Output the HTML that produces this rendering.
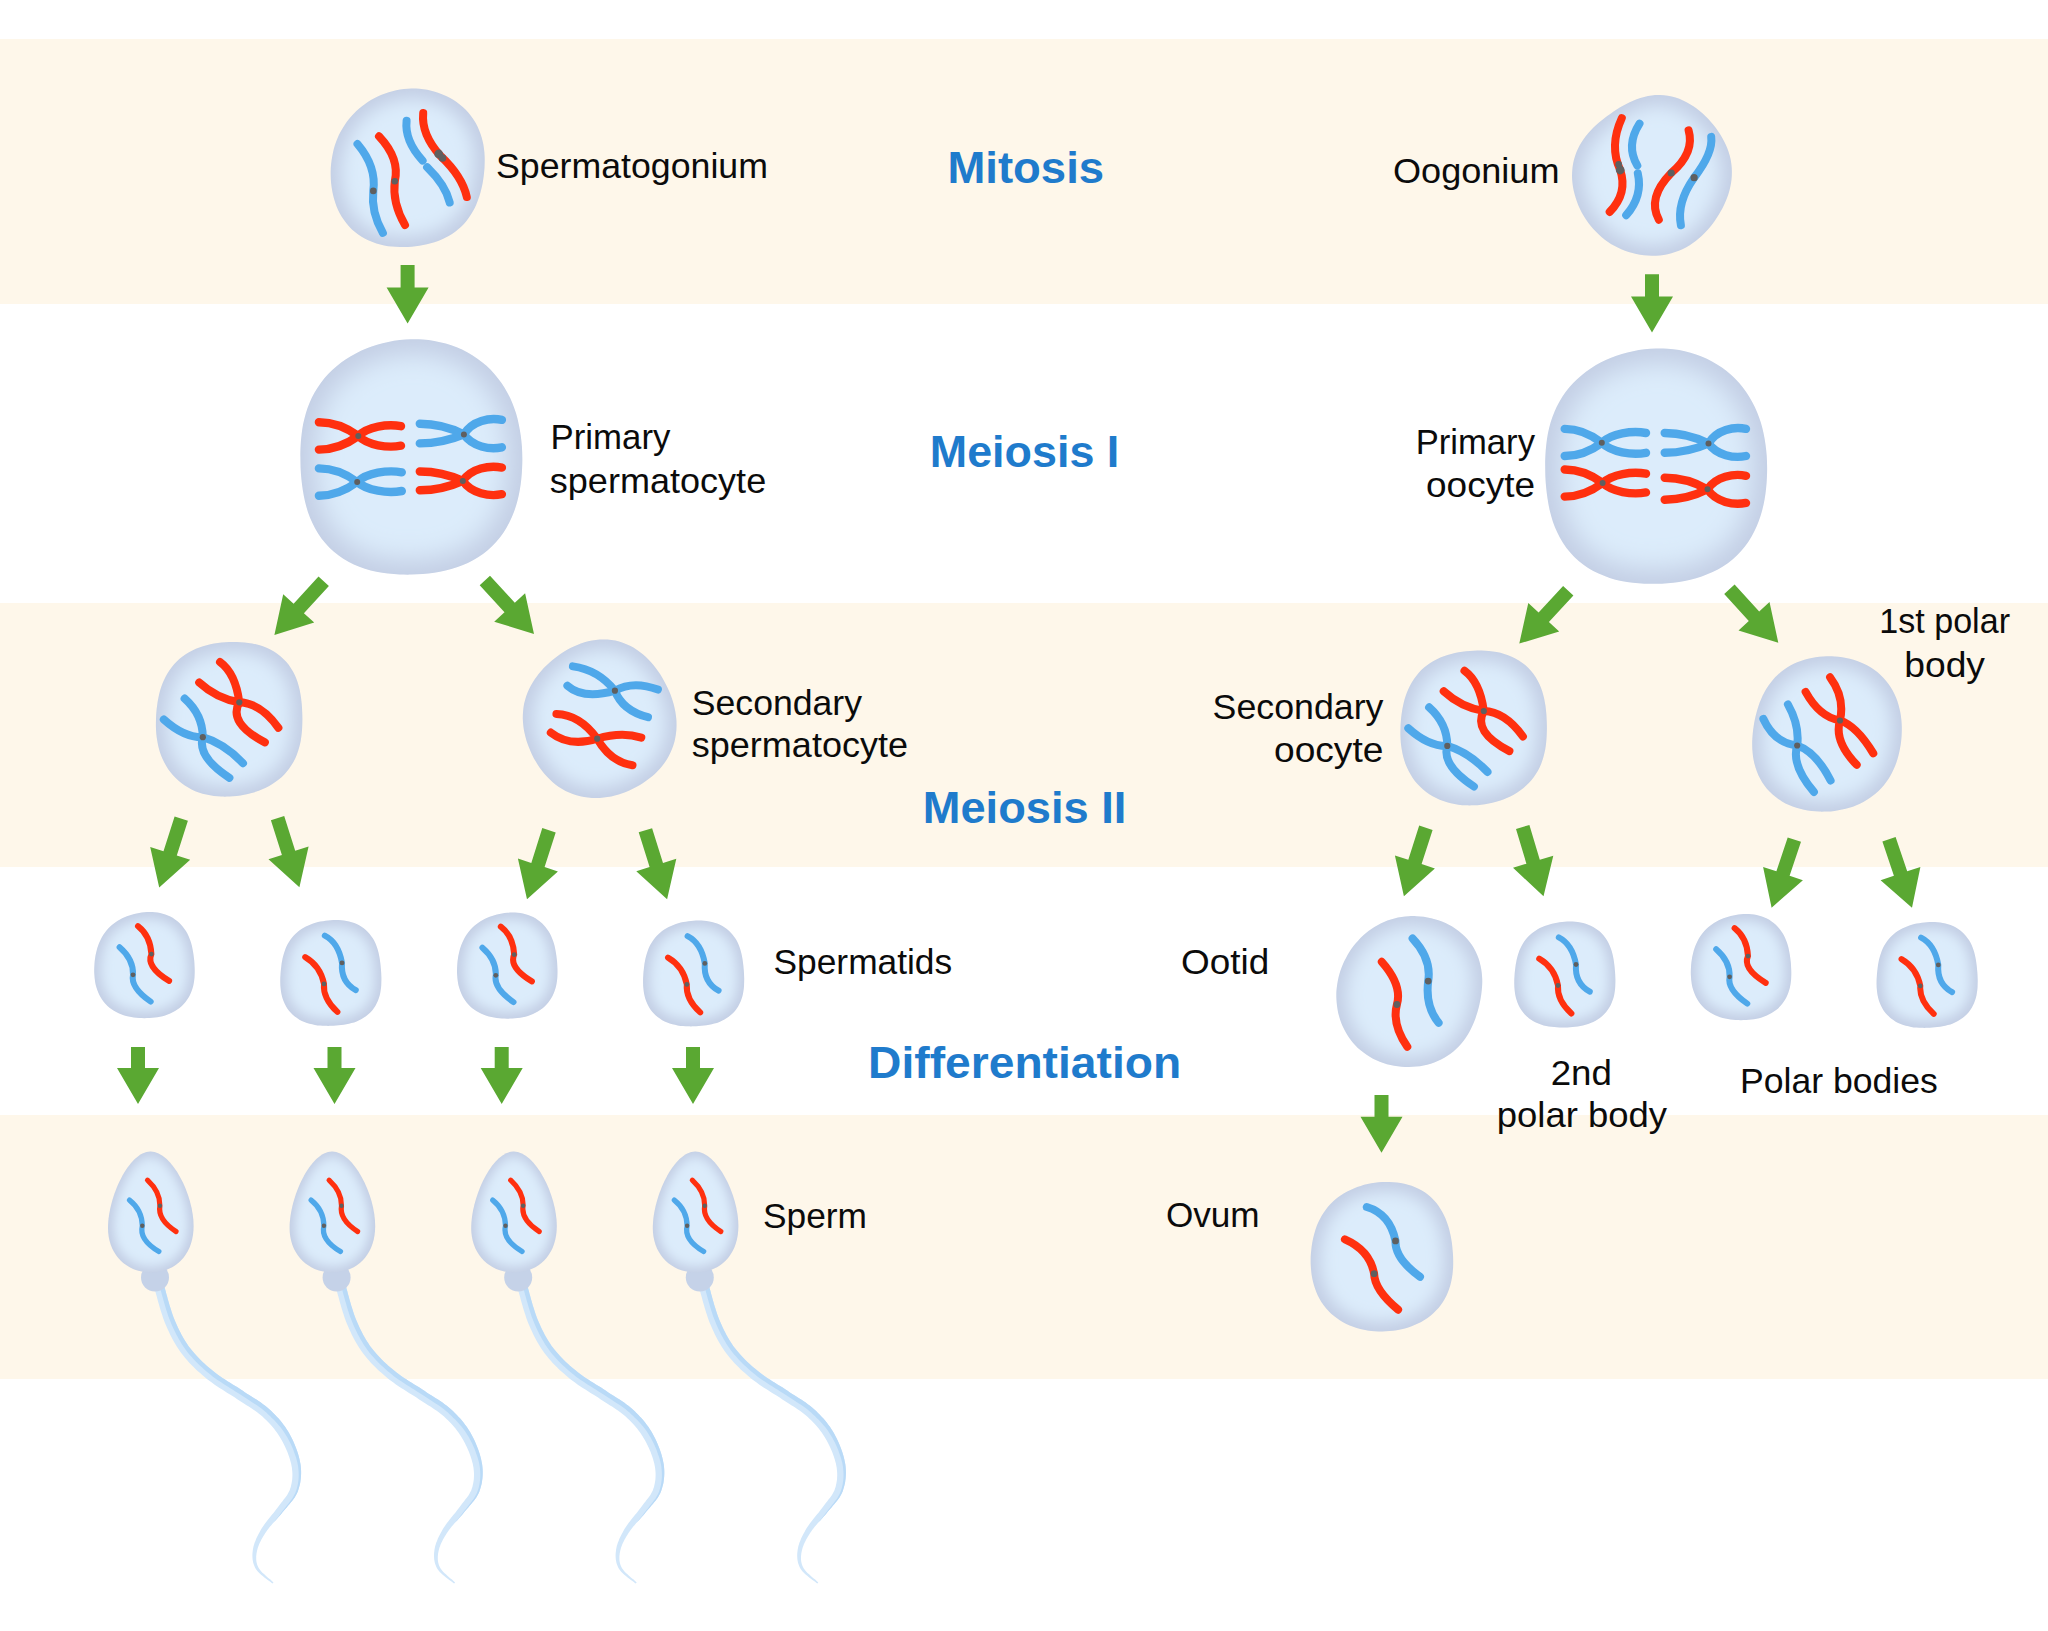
<!DOCTYPE html><html><head><meta charset="utf-8"><style>html,body{margin:0;padding:0;background:#fff;width:2048px;height:1631px;overflow:hidden}svg text{font-family:"Liberation Sans",sans-serif}</style></head><body><svg width="2048" height="1631" viewBox="0 0 2048 1631" style="display:block">
<defs><path id="c0" d="M484.5 167.8C484.3 170.3 484.1 172.8 483.8 175.2C483.5 177.7 483.1 180.2 482.7 182.7C482.2 185.1 481.7 187.6 481.1 190C480.5 192.4 479.8 194.9 479 197.3C478.2 199.7 477.3 202.1 476.3 204.4C475.3 206.7 474.2 209.1 472.9 211.3C471.7 213.5 470.3 215.7 468.8 217.8C467.3 219.9 465.6 222 463.9 223.9C462.1 225.8 460.2 227.6 458.2 229.3C456.3 230.9 454.1 232.5 452 233.9C449.8 235.3 447.5 236.6 445.2 237.8C442.9 239 440.5 240 438.1 240.9C435.6 241.8 433.2 242.6 430.7 243.3C428.2 244 425.7 244.6 423.1 245C420.6 245.5 418 245.9 415.5 246.2C412.9 246.5 410.3 246.8 407.8 246.9C405.2 247 402.6 247.1 399.9 247C397.3 247 394.7 246.9 392.1 246.6C389.4 246.3 386.8 246 384.2 245.4C381.6 244.9 378.9 244.3 376.4 243.5C373.8 242.7 371.3 241.7 368.8 240.6C366.3 239.5 363.9 238.2 361.6 236.8C359.3 235.4 357.1 233.8 355 232.1C352.9 230.3 350.9 228.4 349.1 226.4C347.2 224.4 345.5 222.3 344 220.1C342.4 217.9 341 215.6 339.7 213.2C338.5 210.8 337.4 208.4 336.4 205.9C335.4 203.4 334.6 200.9 333.9 198.3C333.2 195.8 332.6 193.2 332.2 190.7C331.7 188.1 331.4 185.6 331.1 183C330.9 180.4 330.7 177.9 330.7 175.3C330.6 172.8 330.7 170.3 330.8 167.8C331 165.2 331.2 162.7 331.6 160.2C331.9 157.8 332.4 155.3 332.9 152.9C333.4 150.4 334.1 148 334.8 145.6C335.6 143.3 336.4 140.9 337.4 138.6C338.3 136.3 339.4 134 340.6 131.8C341.7 129.6 343 127.5 344.4 125.4C345.7 123.3 347.2 121.3 348.8 119.3C350.3 117.4 352 115.5 353.7 113.7C355.4 111.9 357.3 110.2 359.2 108.5C361.1 106.9 363 105.4 365.1 103.9C367.1 102.4 369.3 101.1 371.4 99.8C373.6 98.5 375.9 97.4 378.2 96.3C380.4 95.2 382.8 94.3 385.2 93.4C387.6 92.5 390 91.8 392.5 91.2C395 90.5 397.5 90 400.1 89.6C402.6 89.2 405.2 88.9 407.8 88.8C410.3 88.6 412.9 88.6 415.5 88.6C418.1 88.7 420.8 88.9 423.4 89.3C426 89.6 428.6 90.1 431.1 90.7C433.7 91.3 436.2 92.1 438.7 92.9C441.2 93.8 443.7 94.8 446.1 95.9C448.5 97.1 450.9 98.4 453.2 99.8C455.4 101.2 457.7 102.7 459.7 104.4C461.8 106.1 463.8 107.9 465.7 109.8C467.6 111.7 469.4 113.7 471 115.9C472.6 118 474.1 120.2 475.4 122.6C476.7 124.9 477.9 127.3 478.9 129.7C480 132.1 480.8 134.7 481.6 137.2C482.3 139.7 482.9 142.3 483.4 144.8C483.8 147.4 484.1 149.9 484.4 152.5C484.6 155.1 484.7 157.6 484.7 160.2C484.7 162.7 484.6 165.2 484.5 167.8Z"/><clipPath id="cp0"><use href="#c0"/></clipPath><filter id="bf0" x="-25%" y="-25%" width="150%" height="150%"><feGaussianBlur stdDeviation="10"/></filter><path id="c1" d="M1731.8 175.5C1731.7 178.1 1731.4 180.7 1731 183.3C1730.6 185.9 1730 188.4 1729.3 190.9C1728.6 193.4 1727.8 195.8 1726.9 198.2C1726 200.6 1725 203 1723.9 205.3C1722.8 207.6 1721.6 209.9 1720.3 212.1C1719.1 214.3 1717.7 216.4 1716.3 218.5C1714.9 220.7 1713.4 222.7 1711.9 224.7C1710.3 226.7 1708.7 228.7 1707 230.6C1705.3 232.5 1703.5 234.3 1701.6 236C1699.7 237.8 1697.7 239.5 1695.7 241C1693.6 242.6 1691.5 244.1 1689.3 245.4C1687.1 246.8 1684.8 248 1682.4 249.2C1680.1 250.3 1677.6 251.3 1675.1 252.1C1672.7 252.9 1670.1 253.6 1667.6 254.2C1665 254.8 1662.4 255.2 1659.8 255.4C1657.2 255.7 1654.5 255.8 1651.9 255.8C1649.3 255.8 1646.6 255.6 1644 255.3C1641.4 255.1 1638.8 254.6 1636.3 254.1C1633.7 253.5 1631.2 252.9 1628.7 252.1C1626.2 251.3 1623.7 250.3 1621.3 249.3C1618.9 248.3 1616.6 247.1 1614.3 245.8C1612 244.6 1609.8 243.2 1607.7 241.7C1605.5 240.2 1603.4 238.6 1601.5 237C1599.5 235.3 1597.6 233.5 1595.8 231.6C1593.9 229.8 1592.2 227.8 1590.6 225.8C1589 223.8 1587.4 221.7 1586 219.5C1584.6 217.4 1583.2 215.1 1582 212.9C1580.8 210.6 1579.6 208.2 1578.6 205.9C1577.6 203.5 1576.7 201 1575.9 198.6C1575.1 196.1 1574.4 193.6 1573.8 191C1573.2 188.5 1572.8 185.9 1572.5 183.3C1572.2 180.7 1572 178.1 1572 175.5C1572.1 172.9 1572.2 170.3 1572.5 167.7C1572.8 165.1 1573.3 162.5 1573.9 160C1574.6 157.5 1575.4 155 1576.3 152.6C1577.3 150.2 1578.4 147.8 1579.6 145.6C1580.8 143.3 1582.2 141.1 1583.7 139C1585.1 136.9 1586.7 135 1588.4 133C1590 131.1 1591.8 129.3 1593.5 127.6C1595.3 125.9 1597.1 124.2 1599 122.6C1600.9 121 1602.8 119.5 1604.7 118C1606.6 116.5 1608.6 115.1 1610.6 113.7C1612.6 112.3 1614.6 110.9 1616.7 109.6C1618.7 108.3 1620.8 107 1623 105.8C1625.2 104.5 1627.4 103.3 1629.7 102.3C1632 101.2 1634.3 100.1 1636.7 99.3C1639.1 98.4 1641.6 97.6 1644.2 96.9C1646.7 96.3 1649.3 95.8 1651.9 95.5C1654.5 95.2 1657.2 95 1659.8 95.1C1662.5 95.1 1665.1 95.4 1667.8 95.8C1670.4 96.2 1673 96.8 1675.5 97.6C1678.1 98.4 1680.6 99.3 1683 100.4C1685.4 101.5 1687.8 102.8 1690 104.2C1692.3 105.5 1694.5 107 1696.6 108.6C1698.7 110.2 1700.7 111.9 1702.7 113.6C1704.6 115.4 1706.5 117.2 1708.3 119.1C1710.1 121 1711.8 123 1713.5 125C1715.1 127 1716.7 129.1 1718.1 131.2C1719.6 133.4 1721 135.6 1722.3 137.9C1723.6 140.1 1724.8 142.5 1725.9 144.9C1726.9 147.3 1727.9 149.7 1728.7 152.2C1729.5 154.7 1730.2 157.3 1730.7 159.8C1731.2 162.4 1731.5 165 1731.7 167.6C1731.9 170.3 1731.9 172.9 1731.8 175.5Z"/><clipPath id="cp1"><use href="#c1"/></clipPath><filter id="bf1" x="-25%" y="-25%" width="150%" height="150%"><feGaussianBlur stdDeviation="10.4"/></filter><path id="c2" d="M522.3 457C522.4 460.7 522.3 464.3 522.1 468C522 471.6 521.7 475.3 521.3 479C520.9 482.6 520.5 486.3 519.8 490C519.1 493.7 518.4 497.4 517.4 501C516.4 504.7 515.3 508.4 513.9 512C512.6 515.6 511.1 519.1 509.3 522.6C507.5 526.1 505.6 529.5 503.4 532.7C501.2 535.9 498.7 539.1 496.1 542C493.5 544.9 490.7 547.7 487.7 550.2C484.7 552.7 481.4 555.1 478.1 557.2C474.8 559.3 471.3 561.2 467.8 562.9C464.2 564.6 460.6 566 456.9 567.3C453.2 568.6 449.4 569.6 445.6 570.5C441.8 571.4 438 572.1 434.2 572.7C430.4 573.3 426.6 573.7 422.7 574C418.9 574.3 415 574.5 411.2 574.6C407.4 574.7 403.5 574.6 399.6 574.5C395.8 574.3 391.9 574 388 573.5C384.2 573.1 380.3 572.5 376.4 571.7C372.6 570.9 368.7 569.9 364.9 568.7C361.2 567.5 357.4 566.1 353.8 564.4C350.2 562.8 346.6 560.9 343.3 558.7C339.9 556.6 336.7 554.2 333.6 551.6C330.6 549 327.8 546.1 325.2 543.1C322.6 540.1 320.2 536.8 318.1 533.5C315.9 530.2 314 526.6 312.4 523.1C310.7 519.5 309.3 515.9 308 512.2C306.8 508.5 305.8 504.8 304.9 501.1C304 497.4 303.4 493.6 302.8 489.9C302.2 486.2 301.8 482.6 301.4 478.9C301 475.2 300.8 471.6 300.6 467.9C300.5 464.3 300.4 460.7 300.4 457C300.3 453.4 300.4 449.8 300.6 446.2C300.8 442.5 301 438.9 301.5 435.2C301.9 431.6 302.4 427.9 303.1 424.3C303.9 420.6 304.7 417 305.8 413.4C306.9 409.8 308.1 406.2 309.6 402.7C311 399.3 312.7 395.8 314.6 392.5C316.5 389.2 318.5 385.9 320.8 382.9C323.1 379.8 325.6 376.8 328.2 374.1C330.8 371.3 333.7 368.6 336.6 366.2C339.6 363.7 342.7 361.4 345.9 359.3C349.1 357.2 352.4 355.2 355.8 353.4C359.2 351.7 362.7 350.1 366.3 348.6C369.8 347.2 373.5 345.9 377.1 344.8C380.8 343.7 384.6 342.7 388.3 342C392.1 341.2 395.9 340.6 399.7 340.1C403.5 339.7 407.4 339.4 411.2 339.3C415 339.2 418.9 339.3 422.8 339.5C426.6 339.8 430.5 340.2 434.3 340.9C438.1 341.6 441.9 342.4 445.7 343.5C449.4 344.5 453.1 345.8 456.7 347.2C460.3 348.7 463.8 350.3 467.2 352.2C470.7 354.1 474 356.1 477.1 358.4C480.3 360.6 483.4 363 486.2 365.6C489.1 368.2 491.8 371 494.4 373.9C496.9 376.8 499.3 379.8 501.5 383C503.6 386.1 505.6 389.4 507.4 392.7C509.2 396.1 510.9 399.5 512.3 403C513.7 406.5 515 410 516.1 413.6C517.2 417.2 518.1 420.8 518.8 424.4C519.6 428 520.2 431.6 520.7 435.3C521.2 438.9 521.6 442.5 521.9 446.2C522.1 449.8 522.3 453.4 522.3 457Z"/><clipPath id="cp2"><use href="#c2"/></clipPath><filter id="bf2" x="-25%" y="-25%" width="150%" height="150%"><feGaussianBlur stdDeviation="14.4"/></filter><path id="c3" d="M1767.1 466.2C1767.2 469.9 1767.1 473.5 1766.9 477.2C1766.8 480.8 1766.5 484.5 1766.1 488.2C1765.7 491.8 1765.3 495.5 1764.6 499.2C1763.9 502.9 1763.2 506.6 1762.2 510.2C1761.2 513.9 1760.1 517.6 1758.7 521.2C1757.4 524.8 1755.9 528.3 1754.1 531.8C1752.3 535.3 1750.4 538.7 1748.2 541.9C1746 545.1 1743.5 548.3 1740.9 551.2C1738.3 554.1 1735.5 556.9 1732.5 559.4C1729.5 561.9 1726.2 564.3 1722.9 566.4C1719.6 568.5 1716.1 570.4 1712.6 572.1C1709 573.8 1705.4 575.2 1701.7 576.5C1698 577.8 1694.2 578.8 1690.4 579.7C1686.6 580.6 1682.8 581.3 1679 581.9C1675.2 582.5 1671.4 582.9 1667.5 583.2C1663.7 583.5 1659.8 583.7 1656 583.8C1652.2 583.9 1648.3 583.8 1644.4 583.7C1640.6 583.5 1636.7 583.2 1632.8 582.7C1629 582.3 1625.1 581.7 1621.2 580.9C1617.4 580.1 1613.5 579.1 1609.7 577.9C1606 576.7 1602.2 575.3 1598.6 573.6C1595 572 1591.4 570.1 1588.1 567.9C1584.7 565.8 1581.5 563.4 1578.4 560.8C1575.4 558.2 1572.6 555.3 1570 552.3C1567.4 549.3 1565 546 1562.9 542.7C1560.7 539.4 1558.8 535.8 1557.2 532.3C1555.5 528.7 1554.1 525.1 1552.8 521.4C1551.6 517.7 1550.6 514 1549.7 510.3C1548.8 506.6 1548.2 502.8 1547.6 499.1C1547 495.4 1546.6 491.8 1546.2 488.1C1545.8 484.4 1545.6 480.8 1545.4 477.1C1545.3 473.5 1545.2 469.9 1545.2 466.2C1545.1 462.6 1545.2 459 1545.4 455.4C1545.6 451.7 1545.8 448.1 1546.3 444.4C1546.7 440.8 1547.2 437.1 1547.9 433.5C1548.7 429.8 1549.5 426.2 1550.6 422.6C1551.7 419 1552.9 415.4 1554.4 411.9C1555.8 408.5 1557.5 405 1559.4 401.7C1561.3 398.4 1563.3 395.1 1565.6 392.1C1567.9 389 1570.4 386 1573 383.3C1575.6 380.5 1578.5 377.8 1581.4 375.4C1584.4 372.9 1587.5 370.6 1590.7 368.5C1593.9 366.4 1597.2 364.4 1600.6 362.6C1604 360.9 1607.5 359.3 1611.1 357.8C1614.6 356.4 1618.3 355.1 1621.9 354C1625.6 352.9 1629.4 351.9 1633.1 351.2C1636.9 350.4 1640.7 349.8 1644.5 349.3C1648.3 348.9 1652.2 348.6 1656 348.5C1659.8 348.4 1663.7 348.5 1667.6 348.7C1671.4 349 1675.3 349.4 1679.1 350.1C1682.9 350.8 1686.7 351.6 1690.5 352.7C1694.2 353.7 1697.9 355 1701.5 356.4C1705.1 357.9 1708.6 359.5 1712 361.4C1715.5 363.3 1718.8 365.3 1721.9 367.6C1725.1 369.8 1728.2 372.2 1731 374.8C1733.9 377.4 1736.6 380.2 1739.2 383.1C1741.7 386 1744.1 389 1746.3 392.2C1748.4 395.3 1750.4 398.6 1752.2 401.9C1754 405.3 1755.7 408.7 1757.1 412.2C1758.5 415.7 1759.8 419.2 1760.9 422.8C1762 426.4 1762.9 430 1763.6 433.6C1764.4 437.2 1765 440.8 1765.5 444.5C1766 448.1 1766.4 451.7 1766.7 455.4C1766.9 459 1767.1 462.6 1767.1 466.2Z"/><clipPath id="cp3"><use href="#c3"/></clipPath><filter id="bf3" x="-25%" y="-25%" width="150%" height="150%"><feGaussianBlur stdDeviation="14.4"/></filter><path id="c4" d="M302.4 719.2C302.4 721.6 302.3 724 302.2 726.4C302.1 728.8 302 731.2 301.7 733.6C301.4 736 301.1 738.5 300.7 740.9C300.2 743.3 299.7 745.7 299 748.1C298.3 750.5 297.6 752.9 296.6 755.3C295.7 757.6 294.6 759.9 293.4 762.1C292.1 764.3 290.7 766.5 289.2 768.5C287.7 770.6 286.1 772.5 284.3 774.4C282.5 776.2 280.6 777.9 278.7 779.5C276.7 781.1 274.6 782.6 272.4 784C270.3 785.3 268 786.6 265.8 787.7C263.5 788.8 261.1 789.8 258.8 790.7C256.4 791.6 254 792.4 251.6 793.1C249.1 793.8 246.7 794.4 244.2 794.8C241.7 795.3 239.2 795.7 236.7 796C234.2 796.3 231.7 796.5 229.1 796.6C226.6 796.7 224.1 796.8 221.5 796.6C219 796.5 216.4 796.3 213.9 796C211.3 795.7 208.8 795.2 206.3 794.6C203.8 794 201.3 793.3 198.8 792.4C196.4 791.6 194 790.6 191.6 789.4C189.3 788.3 187 787 184.8 785.5C182.7 784.1 180.6 782.5 178.6 780.8C176.6 779.1 174.7 777.3 173 775.3C171.3 773.4 169.7 771.3 168.2 769.2C166.8 767.1 165.4 764.8 164.3 762.6C163.1 760.3 162 757.9 161.1 755.6C160.2 753.2 159.5 750.8 158.8 748.3C158.2 745.9 157.7 743.4 157.3 741C156.8 738.6 156.6 736.1 156.3 733.7C156.1 731.3 156 728.8 155.9 726.4C155.9 724 155.9 721.6 156 719.2C156 716.8 156.2 714.4 156.4 712C156.6 709.6 156.8 707.3 157.2 704.9C157.5 702.5 157.9 700.1 158.4 697.7C158.9 695.4 159.5 693 160.1 690.6C160.8 688.3 161.6 685.9 162.5 683.6C163.4 681.3 164.4 679 165.6 676.7C166.7 674.5 168 672.3 169.5 670.2C170.9 668.1 172.5 666.1 174.1 664.2C175.8 662.3 177.7 660.5 179.6 658.8C181.5 657.2 183.6 655.6 185.7 654.2C187.9 652.8 190.1 651.6 192.4 650.5C194.7 649.3 197.1 648.3 199.4 647.5C201.8 646.6 204.3 645.9 206.7 645.2C209.2 644.6 211.6 644.1 214.1 643.6C216.6 643.2 219.1 642.9 221.6 642.6C224.1 642.3 226.6 642.1 229.1 642C231.7 641.9 234.2 641.9 236.8 641.9C239.3 642 241.9 642.1 244.4 642.4C247 642.6 249.6 642.9 252.1 643.4C254.7 643.9 257.3 644.5 259.8 645.3C262.3 646 264.8 646.9 267.2 648C269.6 649.1 272 650.3 274.3 651.7C276.5 653.1 278.7 654.7 280.7 656.4C282.7 658.1 284.6 660 286.4 662C288.1 664 289.7 666.1 291.1 668.4C292.5 670.6 293.8 672.9 294.9 675.3C295.9 677.7 296.9 680.1 297.7 682.6C298.5 685 299.1 687.5 299.7 690C300.2 692.5 300.6 695 301 697.4C301.3 699.9 301.6 702.3 301.8 704.8C302 707.2 302.1 709.6 302.2 712C302.3 714.4 302.4 716.8 302.4 719.2Z"/><clipPath id="cp4"><use href="#c4"/></clipPath><filter id="bf4" x="-25%" y="-25%" width="150%" height="150%"><feGaussianBlur stdDeviation="9.5"/></filter><path id="c5" d="M1546.9 727.9C1546.9 730.3 1546.8 732.7 1546.7 735.1C1546.6 737.5 1546.5 739.9 1546.2 742.3C1545.9 744.7 1545.6 747.2 1545.2 749.6C1544.7 752 1544.2 754.4 1543.5 756.8C1542.8 759.2 1542.1 761.6 1541.1 764C1540.2 766.3 1539.1 768.6 1537.9 770.8C1536.6 773 1535.2 775.2 1533.7 777.2C1532.2 779.3 1530.6 781.2 1528.8 783.1C1527 784.9 1525.1 786.6 1523.2 788.2C1521.2 789.8 1519.1 791.3 1516.9 792.7C1514.8 794 1512.5 795.3 1510.3 796.4C1508 797.5 1505.6 798.5 1503.3 799.4C1500.9 800.3 1498.5 801.1 1496.1 801.8C1493.6 802.5 1491.2 803.1 1488.7 803.5C1486.2 804 1483.7 804.4 1481.2 804.7C1478.7 805 1476.2 805.2 1473.7 805.3C1471.1 805.4 1468.6 805.5 1466 805.3C1463.5 805.2 1460.9 805 1458.4 804.7C1455.8 804.4 1453.3 803.9 1450.8 803.3C1448.3 802.7 1445.8 802 1443.3 801.1C1440.9 800.3 1438.5 799.3 1436.1 798.1C1433.8 797 1431.5 795.7 1429.3 794.2C1427.2 792.8 1425.1 791.2 1423.1 789.5C1421.1 787.8 1419.2 786 1417.5 784C1415.8 782.1 1414.2 780 1412.7 777.9C1411.3 775.8 1409.9 773.5 1408.8 771.3C1407.6 769 1406.5 766.6 1405.6 764.3C1404.7 761.9 1404 759.5 1403.3 757C1402.7 754.6 1402.2 752.1 1401.8 749.7C1401.3 747.3 1401.1 744.8 1400.8 742.4C1400.6 740 1400.5 737.5 1400.4 735.1C1400.4 732.7 1400.4 730.3 1400.5 727.9C1400.5 725.5 1400.7 723.1 1400.9 720.7C1401.1 718.3 1401.3 716 1401.7 713.6C1402 711.2 1402.4 708.8 1402.9 706.4C1403.4 704.1 1404 701.7 1404.6 699.3C1405.3 697 1406.1 694.6 1407 692.3C1407.9 690 1408.9 687.7 1410.1 685.4C1411.2 683.2 1412.5 681 1414 678.9C1415.4 676.8 1417 674.8 1418.6 672.9C1420.3 671 1422.2 669.2 1424.1 667.5C1426 665.9 1428.1 664.3 1430.2 662.9C1432.4 661.5 1434.6 660.3 1436.9 659.2C1439.2 658 1441.6 657 1443.9 656.2C1446.3 655.3 1448.8 654.6 1451.2 653.9C1453.7 653.3 1456.1 652.8 1458.6 652.3C1461.1 651.9 1463.6 651.6 1466.1 651.3C1468.6 651 1471.1 650.8 1473.7 650.7C1476.2 650.6 1478.7 650.6 1481.3 650.6C1483.8 650.7 1486.4 650.8 1488.9 651.1C1491.5 651.3 1494.1 651.6 1496.6 652.1C1499.2 652.6 1501.8 653.2 1504.3 654C1506.8 654.7 1509.3 655.6 1511.7 656.7C1514.1 657.8 1516.5 659 1518.8 660.4C1521 661.8 1523.2 663.4 1525.2 665.1C1527.2 666.8 1529.1 668.7 1530.9 670.7C1532.6 672.7 1534.2 674.8 1535.6 677.1C1537 679.3 1538.3 681.6 1539.4 684C1540.4 686.4 1541.4 688.8 1542.2 691.3C1543 693.7 1543.6 696.2 1544.2 698.7C1544.7 701.2 1545.1 703.7 1545.5 706.1C1545.8 708.6 1546.1 711 1546.3 713.5C1546.5 715.9 1546.6 718.3 1546.7 720.7C1546.8 723.1 1546.9 725.5 1546.9 727.9Z"/><clipPath id="cp5"><use href="#c5"/></clipPath><filter id="bf5" x="-25%" y="-25%" width="150%" height="150%"><feGaussianBlur stdDeviation="9.5"/></filter><path id="c6" d="M1901.7 734C1901.6 736.5 1901.4 738.9 1901.1 741.4C1900.8 743.8 1900.5 746.2 1900 748.6C1899.6 751 1899.1 753.4 1898.4 755.7C1897.8 758.1 1897.1 760.5 1896.3 762.8C1895.5 765.1 1894.5 767.4 1893.5 769.6C1892.5 771.9 1891.3 774.1 1890.1 776.2C1888.8 778.4 1887.4 780.5 1885.9 782.5C1884.5 784.5 1882.9 786.4 1881.2 788.3C1879.5 790.1 1877.6 791.8 1875.7 793.5C1873.8 795.1 1871.8 796.7 1869.7 798.1C1867.7 799.5 1865.5 800.8 1863.3 802C1861.1 803.2 1858.8 804.3 1856.4 805.2C1854.1 806.2 1851.7 807 1849.3 807.8C1846.9 808.5 1844.4 809.1 1842 809.6C1839.5 810.1 1837 810.6 1834.5 810.9C1832 811.2 1829.5 811.4 1827 811.5C1824.4 811.6 1821.9 811.7 1819.3 811.6C1816.8 811.5 1814.2 811.3 1811.6 811C1809.1 810.7 1806.5 810.3 1804 809.8C1801.4 809.2 1798.9 808.6 1796.4 807.8C1793.9 807 1791.4 806.1 1789 805C1786.6 803.9 1784.2 802.7 1782 801.4C1779.7 800 1777.5 798.5 1775.4 796.8C1773.3 795.2 1771.3 793.4 1769.5 791.5C1767.7 789.6 1765.9 787.5 1764.4 785.4C1762.8 783.3 1761.4 781 1760.2 778.7C1758.9 776.4 1757.8 773.9 1756.9 771.5C1755.9 769.1 1755.2 766.6 1754.5 764.1C1753.9 761.5 1753.4 759 1753 756.5C1752.7 753.9 1752.5 751.4 1752.3 748.9C1752.2 746.4 1752.2 743.9 1752.2 741.4C1752.3 738.9 1752.5 736.5 1752.7 734C1752.9 731.6 1753.2 729.2 1753.6 726.8C1753.9 724.4 1754.3 722.1 1754.8 719.7C1755.3 717.3 1755.8 715 1756.5 712.7C1757.1 710.3 1757.8 708 1758.6 705.7C1759.3 703.4 1760.2 701.1 1761.2 698.9C1762.1 696.6 1763.2 694.4 1764.4 692.2C1765.6 690.1 1766.8 687.9 1768.2 685.9C1769.6 683.8 1771.2 681.8 1772.8 679.9C1774.4 678 1776.2 676.2 1778.1 674.5C1779.9 672.8 1781.9 671.2 1783.9 669.7C1786 668.2 1788.2 666.9 1790.4 665.6C1792.6 664.4 1794.9 663.3 1797.2 662.3C1799.6 661.3 1802 660.5 1804.4 659.7C1806.8 659 1809.3 658.4 1811.8 657.9C1814.3 657.4 1816.8 657 1819.3 656.8C1821.9 656.5 1824.4 656.3 1827 656.3C1829.5 656.2 1832 656.3 1834.6 656.4C1837.1 656.6 1839.7 656.9 1842.2 657.2C1844.8 657.6 1847.3 658.1 1849.8 658.7C1852.3 659.3 1854.8 660.1 1857.2 660.9C1859.7 661.8 1862.1 662.8 1864.4 663.9C1866.8 665.1 1869.1 666.3 1871.3 667.7C1873.5 669.1 1875.6 670.7 1877.6 672.3C1879.6 674 1881.5 675.8 1883.3 677.7C1885.1 679.6 1886.8 681.6 1888.3 683.7C1889.9 685.8 1891.3 688 1892.5 690.2C1893.8 692.5 1894.9 694.8 1895.9 697.2C1896.9 699.6 1897.7 702 1898.4 704.4C1899.1 706.9 1899.7 709.4 1900.2 711.8C1900.7 714.3 1901 716.8 1901.3 719.3C1901.6 721.7 1901.7 724.2 1901.8 726.7C1901.8 729.1 1901.8 731.6 1901.7 734Z"/><clipPath id="cp6"><use href="#c6"/></clipPath><filter id="bf6" x="-25%" y="-25%" width="150%" height="150%"><feGaussianBlur stdDeviation="9.7"/></filter><path id="c7" d="M676.3 718.8C676.5 721.4 676.6 723.9 676.5 726.4C676.5 728.9 676.3 731.5 675.9 734C675.6 736.5 675.1 739.1 674.5 741.5C673.8 744 673 746.5 672.1 748.8C671.2 751.2 670.1 753.6 668.9 755.8C667.7 758.1 666.3 760.3 664.8 762.4C663.4 764.5 661.8 766.5 660.1 768.4C658.4 770.3 656.6 772.2 654.8 773.9C652.9 775.6 650.9 777.3 648.9 778.8C646.9 780.4 644.8 781.8 642.7 783.2C640.6 784.6 638.4 785.9 636.2 787.1C633.9 788.3 631.7 789.4 629.3 790.4C627 791.4 624.7 792.4 622.3 793.2C619.9 794 617.4 794.8 614.9 795.4C612.5 796.1 609.9 796.6 607.4 797C604.9 797.4 602.3 797.7 599.7 797.9C597.1 798 594.5 798.1 591.9 797.9C589.3 797.8 586.7 797.5 584.1 797.1C581.6 796.7 579 796.1 576.5 795.3C574 794.6 571.5 793.7 569.1 792.6C566.7 791.6 564.4 790.4 562.2 789C559.9 787.7 557.8 786.2 555.7 784.7C553.7 783.1 551.7 781.4 549.9 779.6C548 777.8 546.2 775.9 544.6 774C542.9 772 541.4 770 539.9 767.9C538.4 765.9 537.1 763.7 535.8 761.6C534.5 759.4 533.3 757.2 532.2 754.9C531.1 752.7 530.1 750.4 529.2 748.1C528.2 745.8 527.4 743.4 526.6 741C525.9 738.6 525.2 736.2 524.7 733.8C524.1 731.3 523.7 728.9 523.4 726.4C523.1 723.9 522.9 721.4 522.8 718.8C522.8 716.3 522.8 713.8 523.1 711.3C523.3 708.8 523.6 706.3 524.1 703.8C524.7 701.4 525.3 698.9 526.1 696.5C526.9 694.1 527.8 691.8 528.9 689.5C529.9 687.2 531.1 685 532.4 682.9C533.7 680.7 535.1 678.7 536.6 676.7C538 674.7 539.6 672.7 541.2 670.9C542.9 669 544.6 667.2 546.4 665.5C548.1 663.8 550 662.2 551.9 660.6C553.8 659 555.7 657.5 557.7 656C559.7 654.6 561.8 653.2 563.9 651.8C566 650.5 568.2 649.3 570.4 648.1C572.6 646.9 574.9 645.9 577.3 644.9C579.6 643.9 582 643 584.5 642.3C586.9 641.6 589.4 640.9 592 640.5C594.5 640 597.1 639.7 599.7 639.5C602.3 639.4 604.9 639.4 607.5 639.6C610.1 639.8 612.7 640.1 615.3 640.6C617.8 641.2 620.3 641.9 622.8 642.7C625.2 643.6 627.7 644.6 630 645.8C632.3 646.9 634.5 648.3 636.7 649.7C638.8 651.1 640.9 652.7 642.8 654.3C644.8 655.9 646.6 657.7 648.4 659.5C650.2 661.3 651.9 663.2 653.4 665.1C655 667 656.5 669 657.9 671.1C659.4 673.1 660.7 675.1 662 677.3C663.2 679.4 664.4 681.5 665.5 683.7C666.7 685.8 667.7 688 668.7 690.3C669.7 692.5 670.6 694.8 671.4 697.1C672.2 699.4 673 701.8 673.6 704.1C674.3 706.5 674.8 709 675.3 711.4C675.7 713.9 676.1 716.3 676.3 718.8Z"/><clipPath id="cp7"><use href="#c7"/></clipPath><filter id="bf7" x="-25%" y="-25%" width="150%" height="150%"><feGaussianBlur stdDeviation="10"/></filter><path id="c8" d="M194.5 965.2C194.6 966.8 194.7 968.5 194.7 970.2C194.7 971.8 194.7 973.5 194.6 975.2C194.6 976.9 194.4 978.6 194.2 980.3C194 982 193.7 983.8 193.3 985.5C192.9 987.2 192.4 988.9 191.8 990.6C191.2 992.3 190.5 993.9 189.7 995.5C188.9 997.1 188 998.7 186.9 1000.1C185.9 1001.6 184.7 1003 183.5 1004.3C182.3 1005.7 180.9 1006.9 179.5 1008C178.1 1009.1 176.5 1010.1 175 1011.1C173.4 1012 171.8 1012.8 170.2 1013.5C168.5 1014.2 166.8 1014.8 165.1 1015.4C163.4 1015.9 161.7 1016.3 160 1016.7C158.2 1017.1 156.5 1017.3 154.8 1017.6C153 1017.8 151.3 1017.9 149.6 1018.1C147.8 1018.2 146.1 1018.2 144.3 1018.2C142.6 1018.2 140.9 1018.2 139.1 1018.1C137.4 1017.9 135.7 1017.8 133.9 1017.5C132.2 1017.3 130.5 1017 128.7 1016.6C127 1016.3 125.3 1015.8 123.6 1015.3C121.9 1014.7 120.2 1014.1 118.6 1013.3C117 1012.6 115.4 1011.7 113.9 1010.8C112.4 1009.9 110.9 1008.8 109.5 1007.7C108.1 1006.5 106.8 1005.3 105.6 1004C104.4 1002.7 103.2 1001.3 102.2 999.8C101.2 998.3 100.3 996.8 99.5 995.2C98.7 993.6 98 992 97.4 990.3C96.8 988.7 96.3 987 95.8 985.3C95.4 983.6 95.1 981.9 94.9 980.2C94.6 978.5 94.5 976.8 94.4 975.1C94.2 973.5 94.2 971.8 94.2 970.1C94.2 968.5 94.3 966.8 94.4 965.2C94.5 963.6 94.6 961.9 94.8 960.3C95 958.7 95.3 957.1 95.5 955.5C95.8 953.9 96.2 952.3 96.6 950.7C97 949.1 97.4 947.5 98 946C98.5 944.4 99.1 942.9 99.8 941.4C100.5 939.9 101.2 938.4 102 936.9C102.9 935.5 103.8 934.1 104.8 932.7C105.8 931.4 106.8 930.1 108 928.8C109.1 927.6 110.3 926.4 111.6 925.3C112.9 924.2 114.2 923.2 115.6 922.2C117 921.3 118.5 920.4 120 919.6C121.4 918.7 123 918 124.5 917.3C126.1 916.6 127.7 916 129.3 915.5C130.9 914.9 132.5 914.5 134.2 914.1C135.8 913.6 137.5 913.3 139.2 913C140.9 912.7 142.6 912.5 144.3 912.3C146.1 912.2 147.8 912.1 149.6 912.1C151.3 912.1 153.1 912.2 154.9 912.3C156.6 912.5 158.4 912.8 160.1 913.1C161.9 913.5 163.6 914 165.3 914.6C167 915.1 168.7 915.8 170.3 916.6C171.9 917.5 173.5 918.4 175 919.4C176.4 920.4 177.8 921.6 179.2 922.8C180.5 924 181.7 925.3 182.8 926.7C184 928.1 185 929.6 185.9 931.1C186.8 932.6 187.7 934.2 188.4 935.8C189.1 937.4 189.8 939 190.3 940.6C190.9 942.3 191.4 943.9 191.8 945.6C192.2 947.2 192.5 948.8 192.8 950.5C193.1 952.1 193.4 953.8 193.6 955.4C193.8 957 194 958.7 194.2 960.3C194.3 961.9 194.5 963.6 194.5 965.2Z"/><clipPath id="cp8"><use href="#c8"/></clipPath><filter id="bf8" x="-25%" y="-25%" width="150%" height="150%"><feGaussianBlur stdDeviation="6.5"/></filter><path id="c9" d="M381.2 972.9C381.3 974.5 381.3 976.2 381.4 977.8C381.4 979.5 381.4 981.2 381.3 982.9C381.3 984.6 381.2 986.4 381 988.1C380.8 989.8 380.5 991.6 380.2 993.3C379.8 995.1 379.3 996.8 378.7 998.5C378.2 1000.2 377.5 1001.9 376.6 1003.6C375.8 1005.2 374.9 1006.8 373.8 1008.2C372.8 1009.7 371.6 1011.2 370.3 1012.5C369 1013.8 367.6 1015 366.2 1016.1C364.7 1017.2 363.2 1018.2 361.6 1019.1C360 1020 358.3 1020.7 356.6 1021.4C355 1022.1 353.2 1022.6 351.5 1023.1C349.8 1023.6 348 1024 346.3 1024.3C344.6 1024.6 342.8 1024.9 341.1 1025.1C339.4 1025.3 337.6 1025.5 335.9 1025.6C334.2 1025.7 332.4 1025.8 330.7 1025.8C329 1025.9 327.2 1025.9 325.5 1025.8C323.7 1025.8 322 1025.7 320.2 1025.5C318.5 1025.4 316.7 1025.2 314.9 1024.9C313.1 1024.6 311.4 1024.2 309.6 1023.8C307.9 1023.3 306.1 1022.7 304.4 1022C302.7 1021.4 301 1020.6 299.4 1019.7C297.8 1018.7 296.3 1017.7 294.8 1016.6C293.4 1015.4 292 1014.1 290.8 1012.8C289.5 1011.4 288.4 1010 287.3 1008.4C286.3 1006.9 285.4 1005.3 284.6 1003.6C283.8 1002 283.2 1000.3 282.6 998.5C282.1 996.8 281.7 995.1 281.3 993.3C281 991.6 280.7 989.8 280.6 988.1C280.4 986.3 280.3 984.6 280.3 982.9C280.2 981.2 280.3 979.5 280.3 977.8C280.4 976.1 280.5 974.5 280.6 972.9C280.7 971.2 280.9 969.6 281.1 968C281.3 966.3 281.5 964.7 281.7 963.1C282 961.5 282.3 959.9 282.6 958.3C283 956.7 283.4 955.1 283.9 953.5C284.4 951.9 284.9 950.3 285.5 948.7C286.2 947.1 286.9 945.6 287.7 944.1C288.5 942.6 289.4 941.1 290.4 939.7C291.4 938.4 292.4 937 293.6 935.7C294.7 934.5 296 933.3 297.3 932.2C298.6 931.1 300 930 301.5 929.1C302.9 928.2 304.4 927.3 305.9 926.5C307.5 925.8 309.1 925.1 310.7 924.5C312.3 923.8 313.9 923.3 315.5 922.8C317.2 922.4 318.8 922 320.5 921.6C322.2 921.3 323.9 921 325.6 920.7C327.3 920.5 329 920.3 330.7 920.2C332.4 920.1 334.2 920 335.9 920C337.7 920 339.4 920 341.2 920.2C342.9 920.4 344.7 920.6 346.5 920.9C348.2 921.2 350 921.7 351.7 922.2C353.4 922.7 355.1 923.4 356.7 924.1C358.4 924.9 360 925.8 361.5 926.8C363 927.7 364.5 928.9 365.8 930C367.2 931.2 368.5 932.6 369.6 933.9C370.8 935.3 371.8 936.8 372.8 938.3C373.7 939.8 374.6 941.4 375.3 943.1C376 944.7 376.7 946.3 377.2 948C377.8 949.6 378.2 951.3 378.6 953C379 954.7 379.3 956.4 379.6 958C379.9 959.7 380.1 961.3 380.3 963C380.5 964.6 380.7 966.3 380.8 967.9C381 969.6 381.1 971.2 381.2 972.9Z"/><clipPath id="cp9"><use href="#c9"/></clipPath><filter id="bf9" x="-25%" y="-25%" width="150%" height="150%"><feGaussianBlur stdDeviation="6.6"/></filter><path id="c10" d="M557.3 965.7C557.4 967.3 557.5 969 557.5 970.7C557.5 972.3 557.5 974 557.4 975.7C557.4 977.4 557.2 979.1 557 980.8C556.8 982.5 556.5 984.3 556.1 986C555.7 987.7 555.2 989.4 554.6 991.1C554 992.8 553.3 994.4 552.5 996C551.7 997.6 550.8 999.2 549.7 1000.6C548.7 1002.1 547.5 1003.5 546.3 1004.8C545.1 1006.2 543.7 1007.4 542.3 1008.5C540.9 1009.6 539.3 1010.6 537.8 1011.6C536.2 1012.5 534.6 1013.3 533 1014C531.3 1014.7 529.6 1015.3 527.9 1015.9C526.2 1016.4 524.5 1016.8 522.8 1017.2C521 1017.6 519.3 1017.8 517.6 1018.1C515.8 1018.3 514.1 1018.4 512.4 1018.6C510.6 1018.7 508.9 1018.7 507.1 1018.7C505.4 1018.7 503.7 1018.7 501.9 1018.6C500.2 1018.4 498.5 1018.3 496.7 1018C495 1017.8 493.3 1017.5 491.5 1017.1C489.8 1016.8 488.1 1016.3 486.4 1015.8C484.7 1015.2 483 1014.6 481.4 1013.8C479.8 1013.1 478.2 1012.2 476.7 1011.3C475.2 1010.4 473.7 1009.3 472.3 1008.2C470.9 1007 469.6 1005.8 468.4 1004.5C467.2 1003.2 466 1001.8 465 1000.3C464 998.8 463.1 997.3 462.3 995.7C461.5 994.1 460.8 992.5 460.2 990.8C459.6 989.2 459.1 987.5 458.6 985.8C458.2 984.1 457.9 982.4 457.7 980.7C457.4 979 457.3 977.3 457.2 975.6C457 974 457 972.3 457 970.6C457 969 457.1 967.3 457.2 965.7C457.3 964.1 457.4 962.4 457.6 960.8C457.8 959.2 458.1 957.6 458.3 956C458.6 954.4 459 952.8 459.4 951.2C459.8 949.6 460.2 948 460.8 946.5C461.3 944.9 461.9 943.4 462.6 941.9C463.3 940.4 464 938.9 464.8 937.4C465.7 936 466.6 934.6 467.6 933.2C468.6 931.9 469.6 930.6 470.8 929.3C471.9 928.1 473.1 926.9 474.4 925.8C475.7 924.7 477 923.7 478.4 922.7C479.8 921.8 481.3 920.9 482.8 920.1C484.2 919.2 485.8 918.5 487.3 917.8C488.9 917.1 490.5 916.5 492.1 916C493.7 915.4 495.3 915 497 914.6C498.6 914.1 500.3 913.8 502 913.5C503.7 913.2 505.4 913 507.1 912.8C508.9 912.7 510.6 912.6 512.4 912.6C514.1 912.6 515.9 912.7 517.7 912.8C519.4 913 521.2 913.3 522.9 913.6C524.7 914 526.4 914.5 528.1 915.1C529.8 915.6 531.5 916.3 533.1 917.1C534.7 918 536.3 918.9 537.8 919.9C539.2 920.9 540.6 922.1 542 923.3C543.3 924.5 544.5 925.8 545.6 927.2C546.8 928.6 547.8 930.1 548.7 931.6C549.6 933.1 550.5 934.7 551.2 936.3C551.9 937.9 552.6 939.5 553.1 941.1C553.7 942.8 554.2 944.4 554.6 946.1C555 947.7 555.3 949.3 555.6 951C555.9 952.6 556.2 954.3 556.4 955.9C556.6 957.5 556.8 959.2 557 960.8C557.1 962.4 557.3 964.1 557.3 965.7Z"/><clipPath id="cp10"><use href="#c10"/></clipPath><filter id="bf10" x="-25%" y="-25%" width="150%" height="150%"><feGaussianBlur stdDeviation="6.5"/></filter><path id="c11" d="M744 973.4C744.1 975 744.1 976.7 744.2 978.3C744.2 980 744.2 981.7 744.1 983.4C744.1 985.1 744 986.9 743.8 988.6C743.6 990.3 743.3 992.1 743 993.8C742.6 995.6 742.1 997.3 741.5 999C741 1000.7 740.3 1002.4 739.4 1004.1C738.6 1005.7 737.7 1007.3 736.6 1008.7C735.6 1010.2 734.4 1011.7 733.1 1013C731.8 1014.3 730.4 1015.5 729 1016.6C727.5 1017.7 726 1018.7 724.4 1019.6C722.8 1020.5 721.1 1021.2 719.4 1021.9C717.8 1022.6 716 1023.1 714.3 1023.6C712.6 1024.1 710.8 1024.5 709.1 1024.8C707.4 1025.1 705.6 1025.4 703.9 1025.6C702.2 1025.8 700.4 1026 698.7 1026.1C697 1026.2 695.2 1026.3 693.5 1026.3C691.8 1026.4 690 1026.4 688.3 1026.3C686.5 1026.3 684.8 1026.2 683 1026C681.3 1025.9 679.5 1025.7 677.7 1025.4C675.9 1025.1 674.2 1024.7 672.4 1024.3C670.7 1023.8 668.9 1023.2 667.2 1022.5C665.5 1021.9 663.8 1021.1 662.2 1020.2C660.6 1019.2 659.1 1018.2 657.6 1017.1C656.2 1015.9 654.8 1014.6 653.6 1013.3C652.3 1011.9 651.2 1010.5 650.1 1008.9C649.1 1007.4 648.2 1005.8 647.4 1004.1C646.6 1002.5 646 1000.8 645.4 999C644.9 997.3 644.5 995.6 644.1 993.8C643.8 992.1 643.5 990.3 643.4 988.6C643.2 986.8 643.1 985.1 643.1 983.4C643 981.7 643.1 980 643.1 978.3C643.2 976.6 643.3 975 643.4 973.4C643.5 971.7 643.7 970.1 643.9 968.5C644.1 966.8 644.3 965.2 644.5 963.6C644.8 962 645.1 960.4 645.4 958.8C645.8 957.2 646.2 955.6 646.7 954C647.2 952.4 647.7 950.8 648.3 949.2C649 947.6 649.7 946.1 650.5 944.6C651.3 943.1 652.2 941.6 653.2 940.2C654.2 938.9 655.2 937.5 656.4 936.2C657.5 935 658.8 933.8 660.1 932.7C661.4 931.6 662.8 930.5 664.3 929.6C665.7 928.7 667.2 927.8 668.7 927C670.3 926.3 671.9 925.6 673.5 925C675.1 924.3 676.7 923.8 678.3 923.3C680 922.9 681.6 922.5 683.3 922.1C685 921.8 686.7 921.5 688.4 921.2C690.1 921 691.8 920.8 693.5 920.7C695.2 920.6 697 920.5 698.7 920.5C700.5 920.5 702.2 920.5 704 920.7C705.7 920.9 707.5 921.1 709.3 921.4C711 921.7 712.8 922.2 714.5 922.7C716.2 923.2 717.9 923.9 719.5 924.6C721.2 925.4 722.8 926.3 724.3 927.3C725.8 928.2 727.3 929.4 728.6 930.5C730 931.7 731.3 933.1 732.4 934.4C733.6 935.8 734.6 937.3 735.6 938.8C736.5 940.3 737.4 941.9 738.1 943.6C738.8 945.2 739.5 946.8 740 948.5C740.6 950.1 741 951.8 741.4 953.5C741.8 955.2 742.1 956.9 742.4 958.5C742.7 960.2 742.9 961.8 743.1 963.5C743.3 965.1 743.5 966.8 743.6 968.4C743.8 970.1 743.9 971.7 744 973.4Z"/><clipPath id="cp11"><use href="#c11"/></clipPath><filter id="bf11" x="-25%" y="-25%" width="150%" height="150%"><feGaussianBlur stdDeviation="6.6"/></filter><path id="c12" d="M1615.2 974.5C1615.3 976.1 1615.3 977.8 1615.4 979.4C1615.4 981.1 1615.4 982.8 1615.3 984.5C1615.3 986.2 1615.2 988 1615 989.7C1614.8 991.4 1614.5 993.2 1614.2 994.9C1613.8 996.7 1613.3 998.4 1612.7 1000.1C1612.2 1001.8 1611.5 1003.5 1610.6 1005.2C1609.8 1006.8 1608.9 1008.4 1607.8 1009.8C1606.8 1011.3 1605.6 1012.8 1604.3 1014.1C1603 1015.4 1601.6 1016.6 1600.2 1017.7C1598.7 1018.8 1597.2 1019.8 1595.6 1020.7C1594 1021.6 1592.3 1022.3 1590.6 1023C1589 1023.7 1587.2 1024.2 1585.5 1024.7C1583.8 1025.2 1582 1025.6 1580.3 1025.9C1578.6 1026.2 1576.8 1026.5 1575.1 1026.7C1573.4 1026.9 1571.6 1027.1 1569.9 1027.2C1568.2 1027.3 1566.4 1027.4 1564.7 1027.4C1563 1027.5 1561.2 1027.5 1559.5 1027.4C1557.7 1027.4 1556 1027.3 1554.2 1027.1C1552.5 1027 1550.7 1026.8 1548.9 1026.5C1547.1 1026.2 1545.4 1025.8 1543.6 1025.4C1541.9 1024.9 1540.1 1024.3 1538.4 1023.6C1536.7 1023 1535 1022.2 1533.4 1021.3C1531.8 1020.3 1530.3 1019.3 1528.8 1018.2C1527.4 1017 1526 1015.7 1524.8 1014.4C1523.5 1013 1522.4 1011.6 1521.3 1010C1520.3 1008.5 1519.4 1006.9 1518.6 1005.2C1517.8 1003.6 1517.2 1001.9 1516.6 1000.1C1516.1 998.4 1515.7 996.7 1515.3 994.9C1515 993.2 1514.7 991.4 1514.6 989.7C1514.4 987.9 1514.3 986.2 1514.3 984.5C1514.2 982.8 1514.3 981.1 1514.3 979.4C1514.4 977.7 1514.5 976.1 1514.6 974.5C1514.7 972.8 1514.9 971.2 1515.1 969.6C1515.3 967.9 1515.5 966.3 1515.7 964.7C1516 963.1 1516.3 961.5 1516.6 959.9C1517 958.3 1517.4 956.7 1517.9 955.1C1518.4 953.5 1518.9 951.9 1519.5 950.3C1520.2 948.7 1520.9 947.2 1521.7 945.7C1522.5 944.2 1523.4 942.7 1524.4 941.3C1525.4 940 1526.4 938.6 1527.6 937.3C1528.7 936.1 1530 934.9 1531.3 933.8C1532.6 932.7 1534 931.6 1535.5 930.7C1536.9 929.8 1538.4 928.9 1539.9 928.1C1541.5 927.4 1543.1 926.7 1544.7 926.1C1546.3 925.4 1547.9 924.9 1549.5 924.4C1551.2 924 1552.8 923.6 1554.5 923.2C1556.2 922.9 1557.9 922.6 1559.6 922.3C1561.3 922.1 1563 921.9 1564.7 921.8C1566.4 921.7 1568.2 921.6 1569.9 921.6C1571.7 921.6 1573.4 921.6 1575.2 921.8C1576.9 922 1578.7 922.2 1580.5 922.5C1582.2 922.8 1584 923.3 1585.7 923.8C1587.4 924.3 1589.1 925 1590.7 925.7C1592.4 926.5 1594 927.4 1595.5 928.4C1597 929.3 1598.5 930.5 1599.8 931.6C1601.2 932.8 1602.5 934.2 1603.6 935.5C1604.8 936.9 1605.8 938.4 1606.8 939.9C1607.7 941.4 1608.6 943 1609.3 944.7C1610 946.3 1610.7 947.9 1611.2 949.6C1611.8 951.2 1612.2 952.9 1612.6 954.6C1613 956.3 1613.3 958 1613.6 959.6C1613.9 961.3 1614.1 962.9 1614.3 964.6C1614.5 966.2 1614.7 967.9 1614.8 969.5C1615 971.2 1615.1 972.8 1615.2 974.5Z"/><clipPath id="cp12"><use href="#c12"/></clipPath><filter id="bf12" x="-25%" y="-25%" width="150%" height="150%"><feGaussianBlur stdDeviation="6.6"/></filter><path id="c13" d="M1791.1 967.2C1791.2 968.8 1791.3 970.5 1791.3 972.2C1791.3 973.8 1791.3 975.5 1791.2 977.2C1791.2 978.9 1791 980.6 1790.8 982.3C1790.6 984 1790.3 985.8 1789.9 987.5C1789.5 989.2 1789 990.9 1788.4 992.6C1787.8 994.3 1787.1 995.9 1786.3 997.5C1785.5 999.1 1784.6 1000.7 1783.5 1002.1C1782.5 1003.6 1781.3 1005 1780.1 1006.3C1778.9 1007.7 1777.5 1008.9 1776.1 1010C1774.7 1011.1 1773.1 1012.1 1771.6 1013.1C1770 1014 1768.4 1014.8 1766.8 1015.5C1765.1 1016.2 1763.4 1016.8 1761.7 1017.4C1760 1017.9 1758.3 1018.3 1756.6 1018.7C1754.8 1019.1 1753.1 1019.3 1751.4 1019.6C1749.6 1019.8 1747.9 1019.9 1746.2 1020.1C1744.4 1020.2 1742.7 1020.2 1740.9 1020.2C1739.2 1020.2 1737.5 1020.2 1735.7 1020.1C1734 1019.9 1732.3 1019.8 1730.5 1019.5C1728.8 1019.3 1727.1 1019 1725.3 1018.6C1723.6 1018.3 1721.9 1017.8 1720.2 1017.3C1718.5 1016.7 1716.8 1016.1 1715.2 1015.3C1713.6 1014.6 1712 1013.7 1710.5 1012.8C1709 1011.9 1707.5 1010.8 1706.1 1009.7C1704.7 1008.5 1703.4 1007.3 1702.2 1006C1701 1004.7 1699.8 1003.3 1698.8 1001.8C1697.8 1000.3 1696.9 998.8 1696.1 997.2C1695.3 995.6 1694.6 994 1694 992.3C1693.4 990.7 1692.9 989 1692.4 987.3C1692 985.6 1691.7 983.9 1691.5 982.2C1691.2 980.5 1691.1 978.8 1691 977.1C1690.8 975.5 1690.8 973.8 1690.8 972.1C1690.8 970.5 1690.9 968.8 1691 967.2C1691.1 965.6 1691.2 963.9 1691.4 962.3C1691.6 960.7 1691.9 959.1 1692.1 957.5C1692.4 955.9 1692.8 954.3 1693.2 952.7C1693.6 951.1 1694 949.5 1694.6 948C1695.1 946.4 1695.7 944.9 1696.4 943.4C1697.1 941.9 1697.8 940.4 1698.6 938.9C1699.5 937.5 1700.4 936.1 1701.4 934.7C1702.4 933.4 1703.4 932.1 1704.6 930.8C1705.7 929.6 1706.9 928.4 1708.2 927.3C1709.5 926.2 1710.8 925.2 1712.2 924.2C1713.6 923.3 1715.1 922.4 1716.6 921.6C1718 920.7 1719.6 920 1721.1 919.3C1722.7 918.6 1724.3 918 1725.9 917.5C1727.5 916.9 1729.1 916.5 1730.8 916.1C1732.4 915.6 1734.1 915.3 1735.8 915C1737.5 914.7 1739.2 914.5 1740.9 914.3C1742.7 914.2 1744.4 914.1 1746.2 914.1C1747.9 914.1 1749.7 914.2 1751.5 914.3C1753.2 914.5 1755 914.8 1756.7 915.1C1758.5 915.5 1760.2 916 1761.9 916.6C1763.6 917.1 1765.3 917.8 1766.9 918.6C1768.5 919.5 1770.1 920.4 1771.6 921.4C1773 922.4 1774.4 923.6 1775.8 924.8C1777.1 926 1778.3 927.3 1779.4 928.7C1780.6 930.1 1781.6 931.6 1782.5 933.1C1783.4 934.6 1784.3 936.2 1785 937.8C1785.7 939.4 1786.4 941 1786.9 942.6C1787.5 944.3 1788 945.9 1788.4 947.6C1788.8 949.2 1789.1 950.8 1789.4 952.5C1789.7 954.1 1790 955.8 1790.2 957.4C1790.4 959 1790.6 960.7 1790.8 962.3C1790.9 963.9 1791.1 965.6 1791.1 967.2Z"/><clipPath id="cp13"><use href="#c13"/></clipPath><filter id="bf13" x="-25%" y="-25%" width="150%" height="150%"><feGaussianBlur stdDeviation="6.5"/></filter><path id="c14" d="M1977.5 974.9C1977.6 976.5 1977.6 978.2 1977.7 979.8C1977.7 981.5 1977.7 983.2 1977.6 984.9C1977.6 986.6 1977.5 988.4 1977.3 990.1C1977.1 991.8 1976.8 993.6 1976.5 995.3C1976.1 997.1 1975.6 998.8 1975 1000.5C1974.5 1002.2 1973.8 1003.9 1972.9 1005.6C1972.1 1007.2 1971.2 1008.8 1970.1 1010.2C1969.1 1011.7 1967.9 1013.2 1966.6 1014.5C1965.3 1015.8 1963.9 1017 1962.5 1018.1C1961 1019.2 1959.5 1020.2 1957.9 1021.1C1956.3 1022 1954.6 1022.7 1952.9 1023.4C1951.3 1024.1 1949.5 1024.6 1947.8 1025.1C1946.1 1025.6 1944.3 1026 1942.6 1026.3C1940.9 1026.6 1939.1 1026.9 1937.4 1027.1C1935.7 1027.3 1933.9 1027.5 1932.2 1027.6C1930.5 1027.7 1928.7 1027.8 1927 1027.8C1925.3 1027.9 1923.5 1027.9 1921.8 1027.8C1920 1027.8 1918.3 1027.7 1916.5 1027.5C1914.8 1027.4 1913 1027.2 1911.2 1026.9C1909.4 1026.6 1907.7 1026.2 1905.9 1025.8C1904.2 1025.3 1902.4 1024.7 1900.7 1024C1899 1023.4 1897.3 1022.6 1895.7 1021.7C1894.1 1020.7 1892.6 1019.7 1891.1 1018.6C1889.7 1017.4 1888.3 1016.1 1887.1 1014.8C1885.8 1013.4 1884.7 1012 1883.6 1010.4C1882.6 1008.9 1881.7 1007.3 1880.9 1005.6C1880.1 1004 1879.5 1002.3 1878.9 1000.5C1878.4 998.8 1878 997.1 1877.6 995.3C1877.3 993.6 1877 991.8 1876.9 990.1C1876.7 988.3 1876.6 986.6 1876.6 984.9C1876.5 983.2 1876.6 981.5 1876.6 979.8C1876.7 978.1 1876.8 976.5 1876.9 974.9C1877 973.2 1877.2 971.6 1877.4 970C1877.6 968.3 1877.8 966.7 1878 965.1C1878.3 963.5 1878.6 961.9 1878.9 960.3C1879.3 958.7 1879.7 957.1 1880.2 955.5C1880.7 953.9 1881.2 952.3 1881.8 950.7C1882.5 949.1 1883.2 947.6 1884 946.1C1884.8 944.6 1885.7 943.1 1886.7 941.7C1887.7 940.4 1888.7 939 1889.9 937.7C1891 936.5 1892.3 935.3 1893.6 934.2C1894.9 933.1 1896.3 932 1897.8 931.1C1899.2 930.2 1900.7 929.3 1902.2 928.5C1903.8 927.8 1905.4 927.1 1907 926.5C1908.6 925.8 1910.2 925.3 1911.8 924.8C1913.5 924.4 1915.1 924 1916.8 923.6C1918.5 923.3 1920.2 923 1921.9 922.7C1923.6 922.5 1925.3 922.3 1927 922.2C1928.7 922.1 1930.5 922 1932.2 922C1934 922 1935.7 922 1937.5 922.2C1939.2 922.4 1941 922.6 1942.8 922.9C1944.5 923.2 1946.3 923.7 1948 924.2C1949.7 924.7 1951.4 925.4 1953 926.1C1954.7 926.9 1956.3 927.8 1957.8 928.8C1959.3 929.7 1960.8 930.9 1962.1 932C1963.5 933.2 1964.8 934.6 1965.9 935.9C1967.1 937.3 1968.1 938.8 1969.1 940.3C1970 941.8 1970.9 943.4 1971.6 945.1C1972.3 946.7 1973 948.3 1973.5 950C1974.1 951.6 1974.5 953.3 1974.9 955C1975.3 956.7 1975.6 958.4 1975.9 960C1976.2 961.7 1976.4 963.3 1976.6 965C1976.8 966.6 1977 968.3 1977.1 969.9C1977.3 971.6 1977.4 973.2 1977.5 974.9Z"/><clipPath id="cp14"><use href="#c14"/></clipPath><filter id="bf14" x="-25%" y="-25%" width="150%" height="150%"><feGaussianBlur stdDeviation="6.6"/></filter><path id="c15" d="M1481.6 991.5C1481.4 993.9 1481 996.2 1480.6 998.6C1480.2 1000.9 1479.7 1003.2 1479.2 1005.5C1478.6 1007.8 1478 1010 1477.4 1012.3C1476.7 1014.5 1476 1016.7 1475.2 1018.9C1474.4 1021.2 1473.5 1023.3 1472.5 1025.5C1471.5 1027.7 1470.5 1029.8 1469.3 1031.9C1468.2 1034 1466.9 1036 1465.6 1038C1464.2 1040 1462.7 1041.9 1461.2 1043.8C1459.6 1045.6 1457.9 1047.4 1456.1 1049.1C1454.4 1050.7 1452.5 1052.3 1450.5 1053.8C1448.5 1055.2 1446.5 1056.6 1444.3 1057.8C1442.2 1059 1440 1060.1 1437.7 1061.1C1435.5 1062.1 1433.1 1063 1430.8 1063.7C1428.4 1064.4 1426 1065 1423.6 1065.5C1421.2 1066 1418.8 1066.4 1416.3 1066.6C1413.8 1066.9 1411.4 1067 1408.9 1067.1C1406.4 1067.1 1403.9 1067 1401.5 1066.8C1399 1066.6 1396.6 1066.3 1394.1 1065.8C1391.7 1065.4 1389.2 1064.8 1386.9 1064.2C1384.5 1063.5 1382.1 1062.7 1379.8 1061.8C1377.5 1060.9 1375.2 1059.8 1373 1058.7C1370.8 1057.5 1368.6 1056.2 1366.6 1054.8C1364.5 1053.5 1362.5 1051.9 1360.6 1050.3C1358.7 1048.7 1356.9 1047 1355.2 1045.2C1353.5 1043.4 1351.9 1041.5 1350.4 1039.5C1349 1037.5 1347.6 1035.4 1346.3 1033.3C1345.1 1031.2 1343.9 1029 1342.9 1026.8C1341.9 1024.5 1341 1022.2 1340.2 1019.9C1339.5 1017.6 1338.8 1015.3 1338.2 1012.9C1337.7 1010.6 1337.3 1008.2 1337 1005.8C1336.7 1003.4 1336.5 1001 1336.4 998.6C1336.3 996.3 1336.3 993.9 1336.4 991.5C1336.6 989.1 1336.8 986.8 1337.2 984.4C1337.5 982.1 1338 979.8 1338.5 977.5C1339 975.2 1339.7 973 1340.4 970.7C1341.2 968.5 1342 966.3 1342.9 964.2C1343.8 962 1344.9 959.9 1346 957.9C1347.1 955.8 1348.2 953.8 1349.5 951.8C1350.8 949.8 1352.1 947.9 1353.5 946.1C1355 944.2 1356.5 942.4 1358.1 940.7C1359.6 938.9 1361.3 937.2 1363.1 935.6C1364.8 934 1366.6 932.5 1368.5 931.1C1370.4 929.6 1372.4 928.2 1374.4 927C1376.5 925.7 1378.6 924.6 1380.7 923.5C1382.9 922.4 1385.1 921.5 1387.4 920.6C1389.7 919.8 1392 919.1 1394.4 918.5C1396.7 917.8 1399.1 917.3 1401.6 917C1404 916.6 1406.4 916.3 1408.9 916.2C1411.4 916.1 1413.8 916.1 1416.3 916.2C1418.8 916.3 1421.3 916.5 1423.8 916.8C1426.2 917.2 1428.7 917.6 1431.1 918.2C1433.6 918.8 1436 919.5 1438.4 920.3C1440.8 921.1 1443.2 922 1445.5 923.1C1447.8 924.2 1450 925.3 1452.2 926.6C1454.4 928 1456.6 929.4 1458.6 931C1460.6 932.5 1462.6 934.2 1464.4 936C1466.2 937.8 1467.9 939.8 1469.5 941.8C1471.1 943.8 1472.5 945.9 1473.8 948.1C1475.1 950.3 1476.2 952.6 1477.2 955C1478.2 957.3 1479.1 959.7 1479.7 962.2C1480.4 964.6 1480.9 967.1 1481.3 969.5C1481.7 972 1482 974.5 1482.1 976.9C1482.3 979.4 1482.3 981.9 1482.2 984.3C1482.1 986.7 1481.9 989.1 1481.6 991.5Z"/><clipPath id="cp15"><use href="#c15"/></clipPath><filter id="bf15" x="-25%" y="-25%" width="150%" height="150%"><feGaussianBlur stdDeviation="9.5"/></filter><path id="c16" d="M1453.1 1256.8C1453.2 1259.1 1453.2 1261.5 1453.2 1263.8C1453.2 1266.1 1453.1 1268.5 1452.8 1270.9C1452.6 1273.2 1452.4 1275.6 1451.9 1278C1451.5 1280.3 1451 1282.7 1450.4 1285.1C1449.7 1287.4 1448.9 1289.7 1448 1292C1447.1 1294.3 1446 1296.5 1444.8 1298.7C1443.6 1300.8 1442.3 1302.9 1440.8 1304.9C1439.3 1306.9 1437.7 1308.8 1436 1310.6C1434.3 1312.4 1432.4 1314.1 1430.5 1315.7C1428.6 1317.3 1426.5 1318.7 1424.4 1320C1422.3 1321.4 1420.1 1322.5 1417.9 1323.6C1415.6 1324.7 1413.3 1325.6 1411 1326.5C1408.7 1327.3 1406.3 1328 1403.9 1328.7C1401.6 1329.3 1399.2 1329.8 1396.7 1330.2C1394.3 1330.6 1391.9 1330.9 1389.5 1331.1C1387 1331.3 1384.6 1331.5 1382.2 1331.5C1379.7 1331.5 1377.3 1331.4 1374.8 1331.3C1372.4 1331.1 1369.9 1330.8 1367.5 1330.4C1365.1 1330 1362.7 1329.6 1360.3 1329C1357.9 1328.4 1355.5 1327.6 1353.2 1326.8C1350.8 1326 1348.5 1325 1346.3 1323.9C1344.1 1322.8 1341.9 1321.6 1339.8 1320.2C1337.7 1318.9 1335.6 1317.4 1333.7 1315.8C1331.8 1314.2 1330 1312.5 1328.3 1310.7C1326.6 1308.9 1325 1306.9 1323.5 1304.9C1322 1302.9 1320.7 1300.8 1319.5 1298.7C1318.3 1296.5 1317.2 1294.3 1316.3 1292C1315.4 1289.7 1314.6 1287.4 1313.9 1285.1C1313.2 1282.7 1312.6 1280.4 1312.2 1278C1311.7 1275.7 1311.4 1273.3 1311.2 1270.9C1310.9 1268.6 1310.8 1266.2 1310.7 1263.8C1310.6 1261.5 1310.7 1259.1 1310.7 1256.8C1310.8 1254.5 1311 1252.1 1311.3 1249.8C1311.5 1247.5 1311.8 1245.2 1312.2 1242.9C1312.6 1240.6 1313.1 1238.3 1313.7 1236C1314.2 1233.7 1314.9 1231.5 1315.6 1229.2C1316.4 1227 1317.2 1224.8 1318.2 1222.6C1319.2 1220.5 1320.2 1218.3 1321.4 1216.2C1322.6 1214.2 1323.9 1212.1 1325.4 1210.2C1326.8 1208.3 1328.3 1206.4 1330 1204.6C1331.6 1202.8 1333.4 1201.2 1335.2 1199.6C1337 1198 1339 1196.6 1341 1195.2C1343 1193.9 1345.1 1192.6 1347.2 1191.5C1349.4 1190.3 1351.6 1189.3 1353.8 1188.4C1356.1 1187.5 1358.4 1186.7 1360.7 1186C1363 1185.2 1365.3 1184.6 1367.7 1184.1C1370.1 1183.6 1372.5 1183.2 1374.9 1182.8C1377.3 1182.5 1379.7 1182.2 1382.2 1182.1C1384.6 1181.9 1387.1 1181.9 1389.5 1181.9C1392 1182 1394.5 1182.1 1396.9 1182.4C1399.4 1182.7 1401.9 1183.1 1404.3 1183.7C1406.8 1184.2 1409.2 1184.9 1411.6 1185.7C1414 1186.6 1416.3 1187.6 1418.5 1188.7C1420.8 1189.8 1423 1191.1 1425.1 1192.6C1427.1 1194 1429.1 1195.6 1431 1197.3C1432.8 1199 1434.6 1200.9 1436.2 1202.8C1437.8 1204.7 1439.2 1206.8 1440.5 1208.9C1441.9 1211 1443.1 1213.2 1444.1 1215.4C1445.2 1217.6 1446.1 1219.9 1446.9 1222.2C1447.8 1224.4 1448.5 1226.8 1449.1 1229.1C1449.7 1231.4 1450.2 1233.7 1450.7 1236C1451.2 1238.3 1451.5 1240.6 1451.9 1242.9C1452.2 1245.2 1452.4 1247.5 1452.6 1249.9C1452.9 1252.2 1453 1254.5 1453.1 1256.8Z"/><clipPath id="cp16"><use href="#c16"/></clipPath><filter id="bf16" x="-25%" y="-25%" width="150%" height="150%"><feGaussianBlur stdDeviation="9.3"/></filter><path id="c17" d="M150.5 1151.5 C172 1151.5 193.6 1195 193.6 1226 C193.6 1255 175 1272.5 151 1272.5 C127 1272.5 108 1255 108 1228 C108 1197 129 1151.5 150.5 1151.5Z"/><clipPath id="cp17"><use href="#c17"/></clipPath><filter id="bf17" x="-25%" y="-25%" width="150%" height="150%"><feGaussianBlur stdDeviation="5.6"/></filter><path id="c18" d="M150.5 1151.5 C172 1151.5 193.6 1195 193.6 1226 C193.6 1255 175 1272.5 151 1272.5 C127 1272.5 108 1255 108 1228 C108 1197 129 1151.5 150.5 1151.5Z"/><clipPath id="cp18"><use href="#c18"/></clipPath><filter id="bf18" x="-25%" y="-25%" width="150%" height="150%"><feGaussianBlur stdDeviation="5.6"/></filter><path id="c19" d="M150.5 1151.5 C172 1151.5 193.6 1195 193.6 1226 C193.6 1255 175 1272.5 151 1272.5 C127 1272.5 108 1255 108 1228 C108 1197 129 1151.5 150.5 1151.5Z"/><clipPath id="cp19"><use href="#c19"/></clipPath><filter id="bf19" x="-25%" y="-25%" width="150%" height="150%"><feGaussianBlur stdDeviation="5.6"/></filter><path id="c20" d="M150.5 1151.5 C172 1151.5 193.6 1195 193.6 1226 C193.6 1255 175 1272.5 151 1272.5 C127 1272.5 108 1255 108 1228 C108 1197 129 1151.5 150.5 1151.5Z"/><clipPath id="cp20"><use href="#c20"/></clipPath><filter id="bf20" x="-25%" y="-25%" width="150%" height="150%"><feGaussianBlur stdDeviation="5.6"/></filter></defs>
<rect x="0" y="39" width="2048" height="265" fill="#fef7ea"/>
<rect x="0" y="603" width="2048" height="264" fill="#fef7ea"/>
<rect x="0" y="1115" width="2048" height="264" fill="#fef7ea"/>
<path d="M400.6 265 L400.6 287.4 L386.6 287.4 L407.6 323.4 L428.6 287.4 L414.6 287.4 L414.6 265Z" fill="#5aa832"/>
<path d="M1645 274.2 L1645 296.5 L1631 296.5 L1652 332.5 L1673 296.5 L1659 296.5 L1659 274.2Z" fill="#5aa832"/>
<path d="M131 1047 L131 1068 L117 1068 L138 1104 L159 1068 L145 1068 L145 1047Z" fill="#5aa832"/>
<path d="M327.5 1047 L327.5 1068 L313.5 1068 L334.5 1104 L355.5 1068 L341.5 1068 L341.5 1047Z" fill="#5aa832"/>
<path d="M494.7 1047 L494.7 1068 L480.7 1068 L501.7 1104 L522.7 1068 L508.7 1068 L508.7 1047Z" fill="#5aa832"/>
<path d="M686 1047 L686 1068 L672 1068 L693 1104 L714 1068 L700 1068 L700 1047Z" fill="#5aa832"/>
<path d="M1374.5 1094.9 L1374.5 1116.8 L1360.5 1116.8 L1381.5 1152.8 L1402.5 1116.8 L1388.5 1116.8 L1388.5 1094.9Z" fill="#5aa832"/>
<path d="M318.5 576.5 L293.6 603.7 L283.2 594.3 L274.4 635 L314.2 622.6 L303.9 613.2 L328.9 585.9Z" fill="#5aa832"/>
<path d="M479.7 585.2 L504.5 612.2 L494.2 621.7 L534 634 L525.1 593.3 L514.8 602.7 L490 575.7Z" fill="#5aa832"/>
<path d="M1563.1 585.9 L1538.6 612.4 L1528.3 602.9 L1519.3 643.6 L1559.2 631.4 L1548.9 621.9 L1573.4 595.5Z" fill="#5aa832"/>
<path d="M1724.2 594.1 L1748.8 621 L1738.5 630.4 L1778.3 642.8 L1769.5 602.1 L1759.2 611.5 L1734.6 584.6Z" fill="#5aa832"/>
<path d="M174.6 816.5 L163.5 851.2 L150.2 846.9 L159.2 887.6 L190.2 859.7 L176.8 855.4 L187.9 820.8Z" fill="#5aa832"/>
<path d="M270.9 820.3 L281.9 855 L268.5 859.2 L299.4 887.2 L308.6 846.5 L295.2 850.8 L284.2 816Z" fill="#5aa832"/>
<path d="M542.3 828.1 L531.3 862.9 L517.9 858.6 L527 899.3 L557.9 871.4 L544.6 867.1 L555.7 832.4Z" fill="#5aa832"/>
<path d="M638.7 832.3 L649.6 867.1 L636.3 871.3 L667.1 899.3 L676.3 858.7 L663 862.9 L652.1 828.2Z" fill="#5aa832"/>
<path d="M1419.2 825.6 L1408.3 859.8 L1394.9 855.5 L1403.9 896.2 L1434.9 868.4 L1421.6 864.1 L1432.6 829.9Z" fill="#5aa832"/>
<path d="M1516 829 L1526.4 863.7 L1513 867.8 L1543.5 896.2 L1553.3 855.7 L1539.8 859.7 L1529.4 824.9Z" fill="#5aa832"/>
<path d="M1787.7 837.4 L1776.4 871.3 L1763.1 866.9 L1771.6 907.7 L1802.9 880.2 L1789.6 875.8 L1801 841.8Z" fill="#5aa832"/>
<path d="M1882.4 841.4 L1893.9 875.8 L1880.6 880.3 L1912 907.7 L1920.4 866.9 L1907.2 871.3 L1895.6 837Z" fill="#5aa832"/>
<use href="#c0" fill="#c3cee4"/>
<g clip-path="url(#cp0)"><use href="#c0" fill="#dcecfb" filter="url(#bf0)" transform="translate(407.7 167.8) scale(0.8700 0.8736) translate(-407.7 -167.8)"/></g>
<path d="M357.5 144 Q376.6 166.6 373.3 190.9 Q370.9 212.1 382.9 232.9" fill="none" stroke="#4fa8ea" stroke-width="8" stroke-linecap="round" stroke-linejoin="round"/>
<path d="M379 136.3 Q400.1 158.8 394.8 181.3 Q392.1 202.8 405 225.1" fill="none" stroke="#ff300f" stroke-width="8" stroke-linecap="round" stroke-linejoin="round"/>
<path d="M406.6 120.8 Q404.4 140.7 422.6 160.6" fill="none" stroke="#4fa8ea" stroke-width="8" stroke-linecap="round" stroke-linejoin="round"/>
<path d="M427.1 167.2 Q445.6 185.2 449.7 202.5" fill="none" stroke="#4fa8ea" stroke-width="8" stroke-linecap="round" stroke-linejoin="round"/>
<path d="M423.2 113.1 Q421.1 134.4 440.6 156 Q462.3 176.5 466.8 197" fill="none" stroke="#ff300f" stroke-width="8" stroke-linecap="round" stroke-linejoin="round"/>
<circle cx="373.3" cy="190.9" r="3.3" fill="#5f5f5f"/>
<circle cx="394.8" cy="181.3" r="3.3" fill="#5f5f5f"/>
<circle cx="438.7" cy="154" r="4.4" fill="#5f5f5f"/>
<circle cx="442.5" cy="158" r="3.8" fill="#5f5f5f"/>
<use href="#c1" fill="#c3cee4"/>
<g clip-path="url(#cp1)"><use href="#c1" fill="#dcecfb" filter="url(#bf1)" transform="translate(1651.9 175.4) scale(0.8700 0.8708) translate(-1651.9 -175.4)"/></g>
<path d="M1621.8 118.1 Q1609 145.9 1620.2 170 Q1628 193.1 1609.7 211.9" fill="none" stroke="#ff300f" stroke-width="8" stroke-linecap="round" stroke-linejoin="round"/>
<path d="M1639.5 123.6 Q1625.6 145.4 1637.3 165.6" fill="none" stroke="#4fa8ea" stroke-width="8" stroke-linecap="round" stroke-linejoin="round"/>
<path d="M1637.8 173.3 Q1643 195.8 1626.2 215.2" fill="none" stroke="#4fa8ea" stroke-width="8" stroke-linecap="round" stroke-linejoin="round"/>
<path d="M1688.6 130.3 Q1695.1 152.3 1671.2 173 Q1647 197.7 1658.8 219.7" fill="none" stroke="#ff300f" stroke-width="8" stroke-linecap="round" stroke-linejoin="round"/>
<path d="M1711.2 136.9 Q1713.3 152.7 1694.1 177.7 Q1676.5 202.6 1680.9 225.2" fill="none" stroke="#4fa8ea" stroke-width="8" stroke-linecap="round" stroke-linejoin="round"/>
<circle cx="1620.2" cy="170" r="4.4" fill="#5f5f5f"/>
<circle cx="1618.7" cy="164.4" r="3.4" fill="#5f5f5f"/>
<circle cx="1671.2" cy="173" r="3.6" fill="#5f5f5f"/>
<circle cx="1694.1" cy="177.7" r="3.6" fill="#5f5f5f"/>
<use href="#c2" fill="#c3cee4"/>
<g clip-path="url(#cp2)"><use href="#c2" fill="#dcecfb" filter="url(#bf2)" transform="translate(411.3 456.9) scale(0.8700 0.8774) translate(-411.3 -456.9)"/></g>
<path d="M318.9 422.2 C334.3 422.2 347.9 428.4 358.3 436 C367.7 445.2 387.3 448.3 401 445.7" fill="none" stroke="#ff300f" stroke-width="8.4" stroke-linecap="round"/>
<path d="M318.9 449.6 C334.3 449.6 347.9 443.5 358.3 436 C367.7 426.7 387.3 423.6 401 426.2" fill="none" stroke="#ff300f" stroke-width="8.4" stroke-linecap="round"/>
<circle cx="358.3" cy="436" r="3" fill="#5f5f5f"/>
<path d="M419.8 423.8 C437 423.8 452.2 428.6 463.9 434.4 C472.3 446.7 489.7 449.9 501.9 447.3" fill="none" stroke="#4fa8ea" stroke-width="8.4" stroke-linecap="round"/>
<path d="M419.8 443.4 C437 443.4 452.2 439.3 463.9 434.4 C472.3 420.6 489.7 417.3 501.9 419.9" fill="none" stroke="#4fa8ea" stroke-width="8.4" stroke-linecap="round"/>
<circle cx="463.9" cy="434.4" r="3" fill="#5f5f5f"/>
<path d="M318.9 468.4 C333.8 468.4 347.1 474.5 357.2 482 C367 490.6 387.5 493.6 401.8 491" fill="none" stroke="#4fa8ea" stroke-width="8.4" stroke-linecap="round"/>
<path d="M318.9 495.7 C333.8 495.7 347.1 489.5 357.2 482 C367 472.8 387.5 469.7 401.8 472.3" fill="none" stroke="#4fa8ea" stroke-width="8.4" stroke-linecap="round"/>
<circle cx="357.2" cy="482" r="3" fill="#5f5f5f"/>
<path d="M419.8 471.5 C436.6 471.5 451.4 475.7 462.8 480.9 C471.4 493.5 489.4 496.8 501.9 494.2" fill="none" stroke="#ff300f" stroke-width="8.4" stroke-linecap="round"/>
<path d="M419.8 490.3 C436.6 490.3 451.4 486.1 462.8 480.9 C471.4 468.3 489.4 465 501.9 467.6" fill="none" stroke="#ff300f" stroke-width="8.4" stroke-linecap="round"/>
<circle cx="462.8" cy="480.9" r="3" fill="#5f5f5f"/>
<use href="#c3" fill="#c3cee4"/>
<g clip-path="url(#cp3)"><use href="#c3" fill="#dcecfb" filter="url(#bf3)" transform="translate(1656.1 466.1) scale(0.8700 0.8774) translate(-1656.1 -466.1)"/></g>
<path d="M1564.7 428.9 C1579.2 428.9 1592 435.2 1601.8 442.8 C1611.5 452.3 1631.9 455.4 1646 452.8" fill="none" stroke="#4fa8ea" stroke-width="8.4" stroke-linecap="round"/>
<path d="M1564.7 456 C1579.2 456 1592 450.1 1601.8 442.8 C1611.5 433.5 1631.9 430.4 1646 433" fill="none" stroke="#4fa8ea" stroke-width="8.4" stroke-linecap="round"/>
<circle cx="1601.8" cy="442.8" r="3" fill="#5f5f5f"/>
<path d="M1664.7 433 C1681.8 433 1696.9 437.7 1708.5 443.5 C1716.8 455.4 1734 458.6 1746 456" fill="none" stroke="#4fa8ea" stroke-width="8.4" stroke-linecap="round"/>
<path d="M1664.7 452.8 C1681.8 452.8 1696.9 448.6 1708.5 443.5 C1716.8 429.6 1734 426.3 1746 428.9" fill="none" stroke="#4fa8ea" stroke-width="8.4" stroke-linecap="round"/>
<circle cx="1708.5" cy="443.5" r="3" fill="#5f5f5f"/>
<path d="M1564.7 469.5 C1579.5 469.5 1592.6 475.6 1602.6 483 C1612.1 491.9 1632.1 495 1646 492.4" fill="none" stroke="#ff300f" stroke-width="8.4" stroke-linecap="round"/>
<path d="M1564.7 496.6 C1579.5 496.6 1592.6 490.5 1602.6 483 C1612.1 474.2 1632.1 471.1 1646 473.7" fill="none" stroke="#ff300f" stroke-width="8.4" stroke-linecap="round"/>
<circle cx="1602.6" cy="483" r="3" fill="#5f5f5f"/>
<path d="M1664.7 477.8 C1681.4 477.8 1696.2 483 1707.5 489.3 C1716 502.2 1733.7 505.5 1746 502.9" fill="none" stroke="#ff300f" stroke-width="8.4" stroke-linecap="round"/>
<path d="M1664.7 499.7 C1681.4 499.7 1696.2 495 1707.5 489.3 C1716 476.5 1733.7 473.2 1746 475.8" fill="none" stroke="#ff300f" stroke-width="8.4" stroke-linecap="round"/>
<circle cx="1707.5" cy="489.3" r="3" fill="#5f5f5f"/>
<use href="#c4" fill="#c3cee4"/>
<g clip-path="url(#cp4)"><use href="#c4" fill="#dcecfb" filter="url(#bf4)" transform="translate(229.2 719.3) scale(0.8700 0.8769) translate(-229.2 -719.3)"/></g>
<path d="M220 662.1 Q235.5 673.4 239.3 702.3 Q227.7 722.9 264.9 742.4" fill="none" stroke="#ff300f" stroke-width="8" stroke-linecap="round" stroke-linejoin="round"/>
<path d="M199.2 682.5 Q216.8 698.6 239.3 702.3 Q260.5 703 278.4 727.8" fill="none" stroke="#ff300f" stroke-width="8" stroke-linecap="round" stroke-linejoin="round"/>
<circle cx="239.3" cy="702.3" r="3.1" fill="#5f5f5f"/>
<path d="M184.6 698.6 Q202.7 714.7 202.8 737.2 Q196.9 756.5 229.4 777.8" fill="none" stroke="#4fa8ea" stroke-width="8" stroke-linecap="round" stroke-linejoin="round"/>
<path d="M163.8 719.5 Q183.9 737.6 202.8 737.2 Q223.5 743 243 763.2" fill="none" stroke="#4fa8ea" stroke-width="8" stroke-linecap="round" stroke-linejoin="round"/>
<circle cx="202.8" cy="737.2" r="3.1" fill="#5f5f5f"/>
<use href="#c5" fill="#c3cee4"/>
<g clip-path="url(#cp5)"><use href="#c5" fill="#dcecfb" filter="url(#bf5)" transform="translate(1473.7 728) scale(0.8700 0.8769) translate(-1473.7 -728)"/></g>
<path d="M1464.5 670.8 Q1480 682.1 1483.8 711 Q1472.2 731.6 1509.4 751.1" fill="none" stroke="#ff300f" stroke-width="8" stroke-linecap="round" stroke-linejoin="round"/>
<path d="M1443.7 691.2 Q1461.2 707.3 1483.8 711 Q1505.1 711.7 1522.9 736.5" fill="none" stroke="#ff300f" stroke-width="8" stroke-linecap="round" stroke-linejoin="round"/>
<circle cx="1483.8" cy="711" r="3.1" fill="#5f5f5f"/>
<path d="M1429.1 707.3 Q1447.2 723.4 1447.3 745.9 Q1441.4 765.2 1473.9 786.5" fill="none" stroke="#4fa8ea" stroke-width="8" stroke-linecap="round" stroke-linejoin="round"/>
<path d="M1408.3 728.2 Q1428.4 746.4 1447.3 745.9 Q1468 751.7 1487.5 771.9" fill="none" stroke="#4fa8ea" stroke-width="8" stroke-linecap="round" stroke-linejoin="round"/>
<circle cx="1447.3" cy="745.9" r="3.1" fill="#5f5f5f"/>
<use href="#c6" fill="#c3cee4"/>
<g clip-path="url(#cp6)"><use href="#c6" fill="#dcecfb" filter="url(#bf6)" transform="translate(1827 733.9) scale(0.8700 0.8748) translate(-1827 -733.9)"/></g>
<path d="M1787.9 704.4 Q1799.8 725.5 1797.2 745.5 Q1791 765.1 1813.9 791.9" fill="none" stroke="#4fa8ea" stroke-width="8" stroke-linecap="round" stroke-linejoin="round"/>
<path d="M1763.4 719 Q1774.5 743.2 1797.2 745.5 Q1816.1 752 1830.6 780.5" fill="none" stroke="#4fa8ea" stroke-width="8" stroke-linecap="round" stroke-linejoin="round"/>
<circle cx="1797.2" cy="745.5" r="3.1" fill="#5f5f5f"/>
<path d="M1830.1 677.3 Q1845 697.3 1840 720.5 Q1833.7 741.1 1856.7 764.8" fill="none" stroke="#ff300f" stroke-width="8" stroke-linecap="round" stroke-linejoin="round"/>
<path d="M1805.6 691.9 Q1819.6 717.2 1840 720.5 Q1856.8 726 1873.3 753.4" fill="none" stroke="#ff300f" stroke-width="8" stroke-linecap="round" stroke-linejoin="round"/>
<circle cx="1840" cy="720.5" r="3.1" fill="#5f5f5f"/>
<use href="#c7" fill="#c3cee4"/>
<g clip-path="url(#cp7)"><use href="#c7" fill="#dcecfb" filter="url(#bf7)" transform="translate(599.7 718.7) scale(0.8700 0.8739) translate(-599.7 -718.7)"/></g>
<path d="M572.9 666.4 Q598.3 669.9 614.9 690.7 Q622.5 710.6 648 717.2" fill="none" stroke="#4fa8ea" stroke-width="8" stroke-linecap="round" stroke-linejoin="round"/>
<path d="M567.4 685.7 Q583.4 699.8 614.9 690.7 Q633 680.2 657.9 689.6" fill="none" stroke="#4fa8ea" stroke-width="8" stroke-linecap="round" stroke-linejoin="round"/>
<circle cx="614.9" cy="690.7" r="3.1" fill="#5f5f5f"/>
<path d="M556.4 713.9 Q580 714.7 597.2 738.7 Q610.4 761.8 632.5 765.2" fill="none" stroke="#ff300f" stroke-width="8" stroke-linecap="round" stroke-linejoin="round"/>
<path d="M550.8 732.6 Q569.6 747.3 597.2 738.7 Q621.5 731.6 641.3 737.6" fill="none" stroke="#ff300f" stroke-width="8" stroke-linecap="round" stroke-linejoin="round"/>
<circle cx="597.2" cy="738.7" r="3.1" fill="#5f5f5f"/>
<use href="#c8" fill="#c3cee4"/>
<g clip-path="url(#cp8)"><use href="#c8" fill="#dcecfb" filter="url(#bf8)" transform="translate(144.5 965.1) scale(0.8700 0.8769) translate(-144.5 -965.1)"/></g>
<path d="M119.6 947.2 Q133.7 959.4 133 974.8 Q130.3 987.4 150.7 1001.6" fill="none" stroke="#4fa8ea" stroke-width="6" stroke-linecap="round" stroke-linejoin="round"/>
<path d="M138 926.1 Q150.5 935.9 151.4 954.1 Q145.8 966.7 169.1 980.9" fill="none" stroke="#ff300f" stroke-width="6" stroke-linecap="round" stroke-linejoin="round"/>
<circle cx="133" cy="974.8" r="2.4" fill="#5f5f5f"/>
<circle cx="151.4" cy="954.1" r="2.4" fill="#5f5f5f"/>
<use href="#c9" fill="#c3cee4"/>
<g clip-path="url(#cp9)"><use href="#c9" fill="#dcecfb" filter="url(#bf9)" transform="translate(330.8 972.9) scale(0.8700 0.8758) translate(-330.8 -972.9)"/></g>
<path d="M324.8 935.7 Q338.4 942.7 342 962.9 Q340.5 981.5 355.8 990.1" fill="none" stroke="#4fa8ea" stroke-width="6" stroke-linecap="round" stroke-linejoin="round"/>
<path d="M305.2 957.1 Q320.4 965.9 324 983.9 Q322.7 998.3 337.4 1011.9" fill="none" stroke="#ff300f" stroke-width="6" stroke-linecap="round" stroke-linejoin="round"/>
<circle cx="342" cy="962.9" r="2.4" fill="#5f5f5f"/>
<circle cx="324" cy="983.9" r="2.4" fill="#5f5f5f"/>
<use href="#c10" fill="#c3cee4"/>
<g clip-path="url(#cp10)"><use href="#c10" fill="#dcecfb" filter="url(#bf10)" transform="translate(507.3 965.6) scale(0.8700 0.8769) translate(-507.3 -965.6)"/></g>
<path d="M482.4 947.7 Q496.5 959.9 495.8 975.3 Q493.1 987.9 513.5 1002.1" fill="none" stroke="#4fa8ea" stroke-width="6" stroke-linecap="round" stroke-linejoin="round"/>
<path d="M500.8 926.6 Q513.3 936.4 514.2 954.6 Q508.5 967.2 531.9 981.4" fill="none" stroke="#ff300f" stroke-width="6" stroke-linecap="round" stroke-linejoin="round"/>
<circle cx="495.8" cy="975.3" r="2.4" fill="#5f5f5f"/>
<circle cx="514.2" cy="954.6" r="2.4" fill="#5f5f5f"/>
<use href="#c11" fill="#c3cee4"/>
<g clip-path="url(#cp11)"><use href="#c11" fill="#dcecfb" filter="url(#bf11)" transform="translate(693.6 973.4) scale(0.8700 0.8758) translate(-693.6 -973.4)"/></g>
<path d="M687.6 936.2 Q701.2 943.2 704.8 963.4 Q703.3 982 718.6 990.6" fill="none" stroke="#4fa8ea" stroke-width="6" stroke-linecap="round" stroke-linejoin="round"/>
<path d="M668 957.6 Q683.2 966.4 686.8 984.4 Q685.5 998.8 700.2 1012.4" fill="none" stroke="#ff300f" stroke-width="6" stroke-linecap="round" stroke-linejoin="round"/>
<circle cx="704.8" cy="963.4" r="2.4" fill="#5f5f5f"/>
<circle cx="686.8" cy="984.4" r="2.4" fill="#5f5f5f"/>
<use href="#c12" fill="#c3cee4"/>
<g clip-path="url(#cp12)"><use href="#c12" fill="#dcecfb" filter="url(#bf12)" transform="translate(1564.8 974.5) scale(0.8700 0.8758) translate(-1564.8 -974.5)"/></g>
<path d="M1558.8 937.3 Q1572.4 944.3 1576 964.5 Q1574.5 983.1 1589.8 991.7" fill="none" stroke="#4fa8ea" stroke-width="6" stroke-linecap="round" stroke-linejoin="round"/>
<path d="M1539.2 958.7 Q1554.4 967.5 1558 985.5 Q1556.7 999.9 1571.4 1013.5" fill="none" stroke="#ff300f" stroke-width="6" stroke-linecap="round" stroke-linejoin="round"/>
<circle cx="1576" cy="964.5" r="2.4" fill="#5f5f5f"/>
<circle cx="1558" cy="985.5" r="2.4" fill="#5f5f5f"/>
<use href="#c13" fill="#c3cee4"/>
<g clip-path="url(#cp13)"><use href="#c13" fill="#dcecfb" filter="url(#bf13)" transform="translate(1741.1 967.1) scale(0.8700 0.8769) translate(-1741.1 -967.1)"/></g>
<path d="M1716.2 949.2 Q1730.3 961.4 1729.6 976.8 Q1726.9 989.4 1747.3 1003.6" fill="none" stroke="#4fa8ea" stroke-width="6" stroke-linecap="round" stroke-linejoin="round"/>
<path d="M1734.6 928.1 Q1747.1 937.9 1748 956.1 Q1742.3 968.7 1765.7 982.9" fill="none" stroke="#ff300f" stroke-width="6" stroke-linecap="round" stroke-linejoin="round"/>
<circle cx="1729.6" cy="976.8" r="2.4" fill="#5f5f5f"/>
<circle cx="1748" cy="956.1" r="2.4" fill="#5f5f5f"/>
<use href="#c14" fill="#c3cee4"/>
<g clip-path="url(#cp14)"><use href="#c14" fill="#dcecfb" filter="url(#bf14)" transform="translate(1927.1 974.9) scale(0.8700 0.8758) translate(-1927.1 -974.9)"/></g>
<path d="M1921.1 937.7 Q1934.7 944.7 1938.3 964.9 Q1936.8 983.5 1952.1 992.1" fill="none" stroke="#4fa8ea" stroke-width="6" stroke-linecap="round" stroke-linejoin="round"/>
<path d="M1901.5 959.1 Q1916.7 967.9 1920.3 985.9 Q1919 1000.3 1933.7 1013.9" fill="none" stroke="#ff300f" stroke-width="6" stroke-linecap="round" stroke-linejoin="round"/>
<circle cx="1938.3" cy="964.9" r="2.4" fill="#5f5f5f"/>
<circle cx="1920.3" cy="985.9" r="2.4" fill="#5f5f5f"/>
<use href="#c15" fill="#c3cee4"/>
<g clip-path="url(#cp15)"><use href="#c15" fill="#dcecfb" filter="url(#bf15)" transform="translate(1409.3 991.6) scale(0.8700 0.8744) translate(-1409.3 -991.6)"/></g>
<path d="M1381.8 961.8 Q1402.5 985.3 1396.9 1004.5 Q1391.7 1024.2 1407.3 1046.8" fill="none" stroke="#ff300f" stroke-width="8" stroke-linecap="round" stroke-linejoin="round"/>
<path d="M1412.6 938.4 Q1431.8 958.7 1428.2 981.1 Q1425 1006 1438.6 1022.8" fill="none" stroke="#4fa8ea" stroke-width="8" stroke-linecap="round" stroke-linejoin="round"/>
<circle cx="1396.9" cy="1004.5" r="3.4" fill="#5f5f5f"/>
<circle cx="1428.2" cy="981.1" r="3.4" fill="#5f5f5f"/>
<use href="#c16" fill="#c3cee4"/>
<g clip-path="url(#cp16)"><use href="#c16" fill="#dcecfb" filter="url(#bf16)" transform="translate(1382 1256.7) scale(0.8700 0.8761) translate(-1382 -1256.7)"/></g>
<path d="M1344.9 1239.3 Q1369.9 1250.3 1374.1 1273.7 Q1374.5 1290.1 1398.1 1309.7" fill="none" stroke="#ff300f" stroke-width="8" stroke-linecap="round" stroke-linejoin="round"/>
<path d="M1366.8 1207 Q1390 1214 1395.5 1240.9 Q1394.7 1258.3 1420 1276.8" fill="none" stroke="#4fa8ea" stroke-width="8" stroke-linecap="round" stroke-linejoin="round"/>
<circle cx="1374.1" cy="1273.7" r="3.4" fill="#5f5f5f"/>
<circle cx="1395.5" cy="1240.9" r="3.4" fill="#5f5f5f"/>
<g transform="translate(0 0)">
<path d="M164.6 1287.6 L165.1 1289.2 L165.7 1291.3 L166.3 1293.7 L167.1 1296.4 L167.8 1299.3 L168.7 1302.3 L169.6 1305.4 L170.6 1308.6 L171.6 1311.7 L172.6 1314.7 L173.6 1317.5 L174.6 1320.1 L175.7 1322.6 L176.8 1325.1 L177.9 1327.5 L179.1 1329.9 L180.3 1332.3 L181.5 1334.7 L182.8 1337 L184.1 1339.3 L185.5 1341.5 L187 1343.7 L188.4 1345.9 L190 1348 L191.6 1350.1 L193.3 1352.1 L195 1354.1 L196.8 1356.1 L198.7 1358.1 L200.6 1360 L202.6 1361.9 L204.6 1363.8 L206.7 1365.7 L208.8 1367.5 L211 1369.3 L213.1 1371.1 L215.3 1372.8 L217.6 1374.5 L220 1376.2 L222.5 1377.9 L225 1379.5 L227.5 1381.2 L230.1 1382.8 L232.7 1384.4 L235.3 1386 L237.9 1387.6 L240.4 1389.2 L242.8 1390.8 L245.1 1392.4 L247.4 1393.9 L249.6 1395.3 L251.9 1396.7 L254.2 1398.2 L256.4 1399.6 L258.6 1401.1 L260.9 1402.6 L263 1404.2 L265.2 1405.8 L267.3 1407.5 L269.3 1409.3 L271.3 1411.1 L273.2 1412.9 L275 1414.8 L276.8 1416.7 L278.6 1418.6 L280.3 1420.6 L281.9 1422.6 L283.5 1424.7 L285.1 1426.8 L286.5 1429 L288 1431.2 L289.3 1433.5 L290.6 1435.9 L291.8 1438.3 L293 1440.8 L294.2 1443.4 L295.2 1446 L296.3 1448.7 L297.2 1451.3 L298.1 1454 L298.8 1456.6 L299.5 1459.2 L300 1461.8 L300.5 1464.2 L300.8 1466.7 L301 1469.1 L301.1 1471.5 L301.1 1473.8 L301 1476.1 L300.8 1478.4 L300.5 1480.7 L300.2 1482.9 L299.7 1485.1 L299.1 1487.2 L298.5 1489.3 L297.8 1491.4 L296.9 1493.4 L295.8 1495.5 L294.7 1497.4 L293.4 1499.2 L292.1 1500.9 L290.8 1502.6 L289.4 1504.2 L288 1505.8 L286.7 1507.4 L285.3 1508.9 L284 1510.5 L282.7 1512.1 L281.4 1513.7 L279.9 1515.4 L278.5 1517.1 L277 1518.8 L275.5 1520.4 L274 1522 L272.6 1523.6 L271.2 1525.2 L269.9 1526.8 L268.6 1528.4 L267.4 1529.9 L266.4 1531.5 L265.3 1533.1 L264.3 1534.7 L263.3 1536.3 L262.3 1537.9 L261.4 1539.6 L260.6 1541.2 L259.8 1542.8 L259.1 1544.3 L258.5 1545.9 L257.9 1547.4 L257.5 1548.9 L257.1 1550.4 L256.8 1551.9 L256.5 1553.4 L256.4 1554.8 L256.2 1556.3 L256.2 1557.7 L256.2 1559.2 L256.3 1560.6 L256.5 1561.9 L256.8 1563.3 L257.2 1564.7 L257.7 1566 L258.3 1567.3 L259 1568.6 L260.1 1570 L261.3 1571.4 L262.7 1572.9 L264.3 1574.3 L265.8 1575.8 L267.4 1577.2 L268.9 1578.4 L270.4 1579.6 L271.6 1580.7 L272.7 1581.7 L273.5 1582.4 L272.5 1583.6 L271.7 1582.9 L270.6 1582.1 L269.2 1581.1 L267.7 1580 L266.1 1578.8 L264.4 1577.5 L262.7 1576.1 L261.1 1574.7 L259.5 1573.2 L258 1571.7 L256.8 1570.2 L255.7 1568.7 L254.9 1567.2 L254.3 1565.7 L253.7 1564.2 L253.2 1562.7 L252.9 1561.1 L252.6 1559.5 L252.5 1557.9 L252.4 1556.2 L252.4 1554.6 L252.5 1552.9 L252.7 1551.3 L252.9 1549.6 L253.2 1547.9 L253.6 1546.1 L254.1 1544.4 L254.7 1542.6 L255.4 1540.9 L256.1 1539.1 L256.9 1537.3 L257.8 1535.5 L258.7 1533.8 L259.7 1532 L260.6 1530.3 L261.6 1528.5 L262.8 1526.7 L264 1524.9 L265.2 1523.2 L266.6 1521.4 L267.9 1519.7 L269.3 1518 L270.7 1516.3 L272.1 1514.6 L273.5 1512.9 L274.8 1511.2 L276.1 1509.6 L277.3 1507.9 L278.6 1506.2 L279.9 1504.5 L281.2 1502.8 L282.5 1501.2 L283.7 1499.6 L285 1498 L286.1 1496.5 L287.2 1494.9 L288.1 1493.3 L288.9 1491.8 L289.7 1490.2 L290.2 1488.6 L290.8 1486.9 L291.2 1485.1 L291.6 1483.3 L291.9 1481.5 L292.2 1479.6 L292.3 1477.7 L292.4 1475.8 L292.4 1473.8 L292.3 1471.8 L292.1 1469.8 L291.9 1467.8 L291.5 1465.8 L291.1 1463.6 L290.5 1461.5 L289.9 1459.2 L289.1 1456.8 L288.3 1454.5 L287.4 1452.1 L286.4 1449.7 L285.3 1447.3 L284.2 1445 L283.1 1442.7 L281.9 1440.6 L280.7 1438.5 L279.5 1436.5 L278.2 1434.5 L276.9 1432.6 L275.5 1430.7 L274.1 1428.8 L272.6 1427 L271.1 1425.2 L269.5 1423.5 L267.8 1421.7 L266.1 1420 L264.4 1418.4 L262.7 1416.7 L260.9 1415.2 L259 1413.7 L257.1 1412.2 L255.1 1410.8 L253.1 1409.4 L251 1408 L248.8 1406.6 L246.5 1405.2 L244.3 1403.7 L241.9 1402.3 L239.6 1400.7 L237.2 1399.2 L234.9 1397.6 L232.5 1396 L230 1394.5 L227.4 1392.9 L224.8 1391.2 L222.2 1389.6 L219.6 1387.9 L216.9 1386.2 L214.3 1384.4 L211.8 1382.6 L209.3 1380.8 L206.9 1378.9 L204.6 1377 L202.3 1375.1 L200.1 1373.1 L197.9 1371.2 L195.7 1369.2 L193.6 1367.1 L191.5 1365 L189.5 1362.9 L187.6 1360.8 L185.6 1358.6 L183.8 1356.3 L182 1354 L180.3 1351.7 L178.6 1349.3 L177.1 1346.9 L175.6 1344.4 L174.1 1341.9 L172.7 1339.4 L171.4 1336.9 L170.1 1334.4 L168.9 1331.8 L167.7 1329.2 L166.5 1326.6 L165.4 1323.9 L164.2 1321.1 L163.1 1318 L162.1 1314.8 L161 1311.6 L160 1308.3 L159.1 1305.1 L158.2 1302 L157.4 1299 L156.7 1296.3 L156 1294 L155.5 1292 L155 1290.4Z" fill="#d2e7fa"/>
<path d="M164.6 1287.6 L165.1 1289.2 L165.7 1291.3 L166.3 1293.7 L167.1 1296.4 L167.8 1299.3 L168.7 1302.3 L169.6 1305.4 L170.6 1308.6 L171.6 1311.7 L172.6 1314.7 L173.6 1317.5 L174.6 1320.1 L175.7 1322.6 L176.8 1325.1 L177.9 1327.5 L179.1 1329.9 L180.3 1332.3 L181.5 1334.7 L182.8 1337 L184.1 1339.3 L185.5 1341.5 L187 1343.7 L188.4 1345.9 L190 1348 L191.6 1350.1 L193.3 1352.1 L195 1354.1 L196.8 1356.1 L198.7 1358.1 L200.6 1360 L202.6 1361.9 L204.6 1363.8 L206.7 1365.7 L208.8 1367.5 L211 1369.3 L213.1 1371.1 L215.3 1372.8 L217.6 1374.5 L220 1376.2 L222.5 1377.9 L225 1379.5 L227.5 1381.2 L230.1 1382.8 L232.7 1384.4 L235.3 1386 L237.9 1387.6 L240.4 1389.2 L242.8 1390.8 L245.1 1392.4 L247.4 1393.9 L249.6 1395.3 L251.9 1396.7 L254.2 1398.2 L256.4 1399.6 L258.6 1401.1 L260.9 1402.6 L263 1404.2 L265.2 1405.8 L267.3 1407.5 L269.3 1409.3 L271.3 1411.1 L273.2 1412.9 L275 1414.8 L276.8 1416.7 L278.6 1418.6 L280.3 1420.6 L281.9 1422.6 L283.5 1424.7 L285.1 1426.8 L286.5 1429 L288 1431.2 L289.3 1433.5 L290.6 1435.9 L291.8 1438.3 L293 1440.8 L294.2 1443.4 L295.2 1446 L296.3 1448.7 L297.2 1451.3 L298.1 1454 L298.8 1456.6 L299.5 1459.2 L300 1461.8 L300.5 1464.2 L300.8 1466.7 L301 1469.1 L301.1 1471.5 L301.1 1473.8 L301 1476.1 L300.8 1478.4 L300.5 1480.7 L300.2 1482.9 L299.7 1485.1 L299.1 1487.2 L298.5 1489.3 L297.8 1491.4 L296.9 1493.4 L295.8 1495.5 L294.7 1497.4 L293.4 1499.2 L292.1 1500.9 L290.8 1502.6 L289.4 1504.2 L288 1505.8 L286.7 1507.4 L285.3 1508.9 L284 1510.5 L282.7 1512.1 L281.4 1513.7 L279.9 1515.4 L278.5 1517.1 L277 1518.8 L275.5 1520.4 L274 1522 L272.6 1523.6 L271.2 1525.2 L269.9 1526.8 L268.6 1528.4 L267.4 1529.9 L266.4 1531.5 L265.3 1533.1 L264.3 1534.7 L263.3 1536.3 L262.3 1537.9 L261.4 1539.6 L260.6 1541.2 L259.8 1542.8 L259.1 1544.3 L258.5 1545.9 L257.9 1547.4 L257.5 1548.9 L257.1 1550.4 L256.8 1551.9 L256.5 1553.4 L256.4 1554.8 L256.2 1556.3 L256.2 1557.7 L256.2 1559.2 L256.3 1560.6 L256.5 1561.9 L256.8 1563.3 L257.2 1564.7 L257.7 1566 L258.3 1567.3 L259 1568.6 L260.1 1570 L261.3 1571.4 L262.7 1572.9 L264.3 1574.3 L265.8 1575.8 L267.4 1577.2 L268.9 1578.4 L270.4 1579.6 L271.6 1580.7 L272.7 1581.7 L273.5 1582.4 L273.5 1582.4 L272.7 1581.7 L271.6 1580.7 L270.4 1579.6 L268.9 1578.4 L267.4 1577.2 L265.8 1575.8 L264.3 1574.3 L262.7 1572.9 L261.3 1571.4 L260.1 1570 L259 1568.6 L258.3 1567.3 L257.7 1566 L257.2 1564.7 L256.8 1563.3 L256.5 1561.9 L256.3 1560.6 L256.2 1559.2 L256.2 1557.7 L256.2 1556.3 L256.4 1554.8 L256.5 1553.4 L256.8 1551.9 L257.1 1550.4 L257.5 1548.9 L257.9 1547.4 L258.5 1545.9 L259.1 1544.3 L259.8 1542.8 L260.6 1541.2 L261.4 1539.6 L262.3 1537.9 L263.3 1536.3 L264.3 1534.7 L265.3 1533.1 L266.4 1531.5 L267.4 1529.9 L268.6 1528.4 L269.9 1526.8 L271.1 1525.2 L272.5 1523.5 L273.9 1521.9 L275.3 1520.2 L276.7 1518.5 L278.1 1516.8 L279.5 1515.1 L280.8 1513.3 L282.1 1511.6 L283.3 1510 L284.6 1508.4 L285.9 1506.8 L287.2 1505.1 L288.5 1503.5 L289.8 1501.8 L291.1 1500.1 L292.3 1498.4 L293.4 1496.6 L294.4 1494.7 L295.4 1492.8 L296.1 1490.8 L296.8 1488.8 L297.3 1486.7 L297.8 1484.6 L298.1 1482.5 L298.4 1480.4 L298.6 1478.2 L298.7 1476 L298.7 1473.8 L298.6 1471.6 L298.4 1469.3 L298.2 1467 L297.8 1464.7 L297.3 1462.3 L296.7 1459.9 L296 1457.4 L295.1 1454.9 L294.2 1452.4 L293.3 1449.8 L292.2 1447.3 L291.1 1444.8 L289.9 1442.3 L288.7 1439.9 L287.4 1437.6 L286.1 1435.4 L284.7 1433.2 L283.3 1431.1 L281.8 1429.1 L280.3 1427.1 L278.7 1425.2 L277 1423.3 L275.4 1421.5 L273.6 1419.6 L271.8 1417.9 L270 1416.1 L268.2 1414.4 L266.3 1412.6 L264.4 1410.9 L262.4 1409.3 L260.4 1407.8 L258.3 1406.3 L256.1 1404.8 L254 1403.4 L251.7 1402 L249.5 1400.5 L247.2 1399.1 L244.9 1397.6 L242.6 1396.1 L240.3 1394.6 L237.9 1393 L235.4 1391.4 L232.9 1389.8 L230.3 1388.2 L227.7 1386.6 L225.1 1385 L222.5 1383.3 L220 1381.6 L217.5 1379.9 L215 1378.2 L212.6 1376.4 L210.3 1374.6 L208.1 1372.8 L205.9 1370.9 L203.7 1369 L201.6 1367.1 L199.5 1365.2 L197.5 1363.2 L195.5 1361.2 L193.6 1359.2 L191.7 1357.1 L189.8 1355 L188.1 1352.9 L186.4 1350.7 L184.8 1348.5 L183.2 1346.2 L181.7 1343.9 L180.3 1341.6 L178.9 1339.2 L177.6 1336.8 L176.3 1334.4 L175.1 1331.9 L173.9 1329.4 L172.7 1326.9 L171.6 1324.4 L170.5 1321.8 L169.4 1319.1 L168.3 1316.2 L167.3 1313.1 L166.3 1309.9 L165.3 1306.7 L164.4 1303.5 L163.5 1300.5 L162.7 1297.6 L162 1294.9 L161.3 1292.5 L160.8 1290.5 L160.3 1288.9Z" fill="#b9daf7"/>
<circle cx="155" cy="1277.5" r="14" fill="#c5d2e8"/>
<use href="#c17" fill="#c3cee4"/>
<g clip-path="url(#cp17)"><use href="#c17" fill="#dcecfb" filter="url(#bf17)" transform="translate(150.8 1212) scale(0.8700 0.9080) translate(-150.8 -1212)"/></g>
<path d="M147.5 1180.2 Q160.3 1192 159.9 1205.8 Q157.4 1219.5 176 1231.5" fill="none" stroke="#ff300f" stroke-width="5.2" stroke-linecap="round" stroke-linejoin="round"/>
<path d="M129.5 1200.1 Q142.1 1210.1 142.3 1225.8 Q138.8 1239.5 158.9 1251.5" fill="none" stroke="#4fa8ea" stroke-width="5.2" stroke-linecap="round" stroke-linejoin="round"/>
<circle cx="159.9" cy="1205.8" r="2.2" fill="#5f5f5f"/>
<circle cx="142.3" cy="1225.8" r="2.2" fill="#5f5f5f"/>
</g>
<g transform="translate(181.6 0)">
<path d="M164.6 1287.6 L165.1 1289.2 L165.7 1291.3 L166.3 1293.7 L167.1 1296.4 L167.8 1299.3 L168.7 1302.3 L169.6 1305.4 L170.6 1308.6 L171.6 1311.7 L172.6 1314.7 L173.6 1317.5 L174.6 1320.1 L175.7 1322.6 L176.8 1325.1 L177.9 1327.5 L179.1 1329.9 L180.3 1332.3 L181.5 1334.7 L182.8 1337 L184.1 1339.3 L185.5 1341.5 L187 1343.7 L188.4 1345.9 L190 1348 L191.6 1350.1 L193.3 1352.1 L195 1354.1 L196.8 1356.1 L198.7 1358.1 L200.6 1360 L202.6 1361.9 L204.6 1363.8 L206.7 1365.7 L208.8 1367.5 L211 1369.3 L213.1 1371.1 L215.3 1372.8 L217.6 1374.5 L220 1376.2 L222.5 1377.9 L225 1379.5 L227.5 1381.2 L230.1 1382.8 L232.7 1384.4 L235.3 1386 L237.9 1387.6 L240.4 1389.2 L242.8 1390.8 L245.1 1392.4 L247.4 1393.9 L249.6 1395.3 L251.9 1396.7 L254.2 1398.2 L256.4 1399.6 L258.6 1401.1 L260.9 1402.6 L263 1404.2 L265.2 1405.8 L267.3 1407.5 L269.3 1409.3 L271.3 1411.1 L273.2 1412.9 L275 1414.8 L276.8 1416.7 L278.6 1418.6 L280.3 1420.6 L281.9 1422.6 L283.5 1424.7 L285.1 1426.8 L286.5 1429 L288 1431.2 L289.3 1433.5 L290.6 1435.9 L291.8 1438.3 L293 1440.8 L294.2 1443.4 L295.2 1446 L296.3 1448.7 L297.2 1451.3 L298.1 1454 L298.8 1456.6 L299.5 1459.2 L300 1461.8 L300.5 1464.2 L300.8 1466.7 L301 1469.1 L301.1 1471.5 L301.1 1473.8 L301 1476.1 L300.8 1478.4 L300.5 1480.7 L300.2 1482.9 L299.7 1485.1 L299.1 1487.2 L298.5 1489.3 L297.8 1491.4 L296.9 1493.4 L295.8 1495.5 L294.7 1497.4 L293.4 1499.2 L292.1 1500.9 L290.8 1502.6 L289.4 1504.2 L288 1505.8 L286.7 1507.4 L285.3 1508.9 L284 1510.5 L282.7 1512.1 L281.4 1513.7 L279.9 1515.4 L278.5 1517.1 L277 1518.8 L275.5 1520.4 L274 1522 L272.6 1523.6 L271.2 1525.2 L269.9 1526.8 L268.6 1528.4 L267.4 1529.9 L266.4 1531.5 L265.3 1533.1 L264.3 1534.7 L263.3 1536.3 L262.3 1537.9 L261.4 1539.6 L260.6 1541.2 L259.8 1542.8 L259.1 1544.3 L258.5 1545.9 L257.9 1547.4 L257.5 1548.9 L257.1 1550.4 L256.8 1551.9 L256.5 1553.4 L256.4 1554.8 L256.2 1556.3 L256.2 1557.7 L256.2 1559.2 L256.3 1560.6 L256.5 1561.9 L256.8 1563.3 L257.2 1564.7 L257.7 1566 L258.3 1567.3 L259 1568.6 L260.1 1570 L261.3 1571.4 L262.7 1572.9 L264.3 1574.3 L265.8 1575.8 L267.4 1577.2 L268.9 1578.4 L270.4 1579.6 L271.6 1580.7 L272.7 1581.7 L273.5 1582.4 L272.5 1583.6 L271.7 1582.9 L270.6 1582.1 L269.2 1581.1 L267.7 1580 L266.1 1578.8 L264.4 1577.5 L262.7 1576.1 L261.1 1574.7 L259.5 1573.2 L258 1571.7 L256.8 1570.2 L255.7 1568.7 L254.9 1567.2 L254.3 1565.7 L253.7 1564.2 L253.2 1562.7 L252.9 1561.1 L252.6 1559.5 L252.5 1557.9 L252.4 1556.2 L252.4 1554.6 L252.5 1552.9 L252.7 1551.3 L252.9 1549.6 L253.2 1547.9 L253.6 1546.1 L254.1 1544.4 L254.7 1542.6 L255.4 1540.9 L256.1 1539.1 L256.9 1537.3 L257.8 1535.5 L258.7 1533.8 L259.7 1532 L260.6 1530.3 L261.6 1528.5 L262.8 1526.7 L264 1524.9 L265.2 1523.2 L266.6 1521.4 L267.9 1519.7 L269.3 1518 L270.7 1516.3 L272.1 1514.6 L273.5 1512.9 L274.8 1511.2 L276.1 1509.6 L277.3 1507.9 L278.6 1506.2 L279.9 1504.5 L281.2 1502.8 L282.5 1501.2 L283.7 1499.6 L285 1498 L286.1 1496.5 L287.2 1494.9 L288.1 1493.3 L288.9 1491.8 L289.7 1490.2 L290.2 1488.6 L290.8 1486.9 L291.2 1485.1 L291.6 1483.3 L291.9 1481.5 L292.2 1479.6 L292.3 1477.7 L292.4 1475.8 L292.4 1473.8 L292.3 1471.8 L292.1 1469.8 L291.9 1467.8 L291.5 1465.8 L291.1 1463.6 L290.5 1461.5 L289.9 1459.2 L289.1 1456.8 L288.3 1454.5 L287.4 1452.1 L286.4 1449.7 L285.3 1447.3 L284.2 1445 L283.1 1442.7 L281.9 1440.6 L280.7 1438.5 L279.5 1436.5 L278.2 1434.5 L276.9 1432.6 L275.5 1430.7 L274.1 1428.8 L272.6 1427 L271.1 1425.2 L269.5 1423.5 L267.8 1421.7 L266.1 1420 L264.4 1418.4 L262.7 1416.7 L260.9 1415.2 L259 1413.7 L257.1 1412.2 L255.1 1410.8 L253.1 1409.4 L251 1408 L248.8 1406.6 L246.5 1405.2 L244.3 1403.7 L241.9 1402.3 L239.6 1400.7 L237.2 1399.2 L234.9 1397.6 L232.5 1396 L230 1394.5 L227.4 1392.9 L224.8 1391.2 L222.2 1389.6 L219.6 1387.9 L216.9 1386.2 L214.3 1384.4 L211.8 1382.6 L209.3 1380.8 L206.9 1378.9 L204.6 1377 L202.3 1375.1 L200.1 1373.1 L197.9 1371.2 L195.7 1369.2 L193.6 1367.1 L191.5 1365 L189.5 1362.9 L187.6 1360.8 L185.6 1358.6 L183.8 1356.3 L182 1354 L180.3 1351.7 L178.6 1349.3 L177.1 1346.9 L175.6 1344.4 L174.1 1341.9 L172.7 1339.4 L171.4 1336.9 L170.1 1334.4 L168.9 1331.8 L167.7 1329.2 L166.5 1326.6 L165.4 1323.9 L164.2 1321.1 L163.1 1318 L162.1 1314.8 L161 1311.6 L160 1308.3 L159.1 1305.1 L158.2 1302 L157.4 1299 L156.7 1296.3 L156 1294 L155.5 1292 L155 1290.4Z" fill="#d2e7fa"/>
<path d="M164.6 1287.6 L165.1 1289.2 L165.7 1291.3 L166.3 1293.7 L167.1 1296.4 L167.8 1299.3 L168.7 1302.3 L169.6 1305.4 L170.6 1308.6 L171.6 1311.7 L172.6 1314.7 L173.6 1317.5 L174.6 1320.1 L175.7 1322.6 L176.8 1325.1 L177.9 1327.5 L179.1 1329.9 L180.3 1332.3 L181.5 1334.7 L182.8 1337 L184.1 1339.3 L185.5 1341.5 L187 1343.7 L188.4 1345.9 L190 1348 L191.6 1350.1 L193.3 1352.1 L195 1354.1 L196.8 1356.1 L198.7 1358.1 L200.6 1360 L202.6 1361.9 L204.6 1363.8 L206.7 1365.7 L208.8 1367.5 L211 1369.3 L213.1 1371.1 L215.3 1372.8 L217.6 1374.5 L220 1376.2 L222.5 1377.9 L225 1379.5 L227.5 1381.2 L230.1 1382.8 L232.7 1384.4 L235.3 1386 L237.9 1387.6 L240.4 1389.2 L242.8 1390.8 L245.1 1392.4 L247.4 1393.9 L249.6 1395.3 L251.9 1396.7 L254.2 1398.2 L256.4 1399.6 L258.6 1401.1 L260.9 1402.6 L263 1404.2 L265.2 1405.8 L267.3 1407.5 L269.3 1409.3 L271.3 1411.1 L273.2 1412.9 L275 1414.8 L276.8 1416.7 L278.6 1418.6 L280.3 1420.6 L281.9 1422.6 L283.5 1424.7 L285.1 1426.8 L286.5 1429 L288 1431.2 L289.3 1433.5 L290.6 1435.9 L291.8 1438.3 L293 1440.8 L294.2 1443.4 L295.2 1446 L296.3 1448.7 L297.2 1451.3 L298.1 1454 L298.8 1456.6 L299.5 1459.2 L300 1461.8 L300.5 1464.2 L300.8 1466.7 L301 1469.1 L301.1 1471.5 L301.1 1473.8 L301 1476.1 L300.8 1478.4 L300.5 1480.7 L300.2 1482.9 L299.7 1485.1 L299.1 1487.2 L298.5 1489.3 L297.8 1491.4 L296.9 1493.4 L295.8 1495.5 L294.7 1497.4 L293.4 1499.2 L292.1 1500.9 L290.8 1502.6 L289.4 1504.2 L288 1505.8 L286.7 1507.4 L285.3 1508.9 L284 1510.5 L282.7 1512.1 L281.4 1513.7 L279.9 1515.4 L278.5 1517.1 L277 1518.8 L275.5 1520.4 L274 1522 L272.6 1523.6 L271.2 1525.2 L269.9 1526.8 L268.6 1528.4 L267.4 1529.9 L266.4 1531.5 L265.3 1533.1 L264.3 1534.7 L263.3 1536.3 L262.3 1537.9 L261.4 1539.6 L260.6 1541.2 L259.8 1542.8 L259.1 1544.3 L258.5 1545.9 L257.9 1547.4 L257.5 1548.9 L257.1 1550.4 L256.8 1551.9 L256.5 1553.4 L256.4 1554.8 L256.2 1556.3 L256.2 1557.7 L256.2 1559.2 L256.3 1560.6 L256.5 1561.9 L256.8 1563.3 L257.2 1564.7 L257.7 1566 L258.3 1567.3 L259 1568.6 L260.1 1570 L261.3 1571.4 L262.7 1572.9 L264.3 1574.3 L265.8 1575.8 L267.4 1577.2 L268.9 1578.4 L270.4 1579.6 L271.6 1580.7 L272.7 1581.7 L273.5 1582.4 L273.5 1582.4 L272.7 1581.7 L271.6 1580.7 L270.4 1579.6 L268.9 1578.4 L267.4 1577.2 L265.8 1575.8 L264.3 1574.3 L262.7 1572.9 L261.3 1571.4 L260.1 1570 L259 1568.6 L258.3 1567.3 L257.7 1566 L257.2 1564.7 L256.8 1563.3 L256.5 1561.9 L256.3 1560.6 L256.2 1559.2 L256.2 1557.7 L256.2 1556.3 L256.4 1554.8 L256.5 1553.4 L256.8 1551.9 L257.1 1550.4 L257.5 1548.9 L257.9 1547.4 L258.5 1545.9 L259.1 1544.3 L259.8 1542.8 L260.6 1541.2 L261.4 1539.6 L262.3 1537.9 L263.3 1536.3 L264.3 1534.7 L265.3 1533.1 L266.4 1531.5 L267.4 1529.9 L268.6 1528.4 L269.9 1526.8 L271.1 1525.2 L272.5 1523.5 L273.9 1521.9 L275.3 1520.2 L276.7 1518.5 L278.1 1516.8 L279.5 1515.1 L280.8 1513.3 L282.1 1511.6 L283.3 1510 L284.6 1508.4 L285.9 1506.8 L287.2 1505.1 L288.5 1503.5 L289.8 1501.8 L291.1 1500.1 L292.3 1498.4 L293.4 1496.6 L294.4 1494.7 L295.4 1492.8 L296.1 1490.8 L296.8 1488.8 L297.3 1486.7 L297.8 1484.6 L298.1 1482.5 L298.4 1480.4 L298.6 1478.2 L298.7 1476 L298.7 1473.8 L298.6 1471.6 L298.4 1469.3 L298.2 1467 L297.8 1464.7 L297.3 1462.3 L296.7 1459.9 L296 1457.4 L295.1 1454.9 L294.2 1452.4 L293.3 1449.8 L292.2 1447.3 L291.1 1444.8 L289.9 1442.3 L288.7 1439.9 L287.4 1437.6 L286.1 1435.4 L284.7 1433.2 L283.3 1431.1 L281.8 1429.1 L280.3 1427.1 L278.7 1425.2 L277 1423.3 L275.4 1421.5 L273.6 1419.6 L271.8 1417.9 L270 1416.1 L268.2 1414.4 L266.3 1412.6 L264.4 1410.9 L262.4 1409.3 L260.4 1407.8 L258.3 1406.3 L256.1 1404.8 L254 1403.4 L251.7 1402 L249.5 1400.5 L247.2 1399.1 L244.9 1397.6 L242.6 1396.1 L240.3 1394.6 L237.9 1393 L235.4 1391.4 L232.9 1389.8 L230.3 1388.2 L227.7 1386.6 L225.1 1385 L222.5 1383.3 L220 1381.6 L217.5 1379.9 L215 1378.2 L212.6 1376.4 L210.3 1374.6 L208.1 1372.8 L205.9 1370.9 L203.7 1369 L201.6 1367.1 L199.5 1365.2 L197.5 1363.2 L195.5 1361.2 L193.6 1359.2 L191.7 1357.1 L189.8 1355 L188.1 1352.9 L186.4 1350.7 L184.8 1348.5 L183.2 1346.2 L181.7 1343.9 L180.3 1341.6 L178.9 1339.2 L177.6 1336.8 L176.3 1334.4 L175.1 1331.9 L173.9 1329.4 L172.7 1326.9 L171.6 1324.4 L170.5 1321.8 L169.4 1319.1 L168.3 1316.2 L167.3 1313.1 L166.3 1309.9 L165.3 1306.7 L164.4 1303.5 L163.5 1300.5 L162.7 1297.6 L162 1294.9 L161.3 1292.5 L160.8 1290.5 L160.3 1288.9Z" fill="#b9daf7"/>
<circle cx="155" cy="1277.5" r="14" fill="#c5d2e8"/>
<use href="#c18" fill="#c3cee4"/>
<g clip-path="url(#cp18)"><use href="#c18" fill="#dcecfb" filter="url(#bf18)" transform="translate(150.8 1212) scale(0.8700 0.9080) translate(-150.8 -1212)"/></g>
<path d="M147.5 1180.2 Q160.3 1192 159.9 1205.8 Q157.4 1219.5 176 1231.5" fill="none" stroke="#ff300f" stroke-width="5.2" stroke-linecap="round" stroke-linejoin="round"/>
<path d="M129.5 1200.1 Q142.1 1210.1 142.3 1225.8 Q138.8 1239.5 158.9 1251.5" fill="none" stroke="#4fa8ea" stroke-width="5.2" stroke-linecap="round" stroke-linejoin="round"/>
<circle cx="159.9" cy="1205.8" r="2.2" fill="#5f5f5f"/>
<circle cx="142.3" cy="1225.8" r="2.2" fill="#5f5f5f"/>
</g>
<g transform="translate(363.2 0)">
<path d="M164.6 1287.6 L165.1 1289.2 L165.7 1291.3 L166.3 1293.7 L167.1 1296.4 L167.8 1299.3 L168.7 1302.3 L169.6 1305.4 L170.6 1308.6 L171.6 1311.7 L172.6 1314.7 L173.6 1317.5 L174.6 1320.1 L175.7 1322.6 L176.8 1325.1 L177.9 1327.5 L179.1 1329.9 L180.3 1332.3 L181.5 1334.7 L182.8 1337 L184.1 1339.3 L185.5 1341.5 L187 1343.7 L188.4 1345.9 L190 1348 L191.6 1350.1 L193.3 1352.1 L195 1354.1 L196.8 1356.1 L198.7 1358.1 L200.6 1360 L202.6 1361.9 L204.6 1363.8 L206.7 1365.7 L208.8 1367.5 L211 1369.3 L213.1 1371.1 L215.3 1372.8 L217.6 1374.5 L220 1376.2 L222.5 1377.9 L225 1379.5 L227.5 1381.2 L230.1 1382.8 L232.7 1384.4 L235.3 1386 L237.9 1387.6 L240.4 1389.2 L242.8 1390.8 L245.1 1392.4 L247.4 1393.9 L249.6 1395.3 L251.9 1396.7 L254.2 1398.2 L256.4 1399.6 L258.6 1401.1 L260.9 1402.6 L263 1404.2 L265.2 1405.8 L267.3 1407.5 L269.3 1409.3 L271.3 1411.1 L273.2 1412.9 L275 1414.8 L276.8 1416.7 L278.6 1418.6 L280.3 1420.6 L281.9 1422.6 L283.5 1424.7 L285.1 1426.8 L286.5 1429 L288 1431.2 L289.3 1433.5 L290.6 1435.9 L291.8 1438.3 L293 1440.8 L294.2 1443.4 L295.2 1446 L296.3 1448.7 L297.2 1451.3 L298.1 1454 L298.8 1456.6 L299.5 1459.2 L300 1461.8 L300.5 1464.2 L300.8 1466.7 L301 1469.1 L301.1 1471.5 L301.1 1473.8 L301 1476.1 L300.8 1478.4 L300.5 1480.7 L300.2 1482.9 L299.7 1485.1 L299.1 1487.2 L298.5 1489.3 L297.8 1491.4 L296.9 1493.4 L295.8 1495.5 L294.7 1497.4 L293.4 1499.2 L292.1 1500.9 L290.8 1502.6 L289.4 1504.2 L288 1505.8 L286.7 1507.4 L285.3 1508.9 L284 1510.5 L282.7 1512.1 L281.4 1513.7 L279.9 1515.4 L278.5 1517.1 L277 1518.8 L275.5 1520.4 L274 1522 L272.6 1523.6 L271.2 1525.2 L269.9 1526.8 L268.6 1528.4 L267.4 1529.9 L266.4 1531.5 L265.3 1533.1 L264.3 1534.7 L263.3 1536.3 L262.3 1537.9 L261.4 1539.6 L260.6 1541.2 L259.8 1542.8 L259.1 1544.3 L258.5 1545.9 L257.9 1547.4 L257.5 1548.9 L257.1 1550.4 L256.8 1551.9 L256.5 1553.4 L256.4 1554.8 L256.2 1556.3 L256.2 1557.7 L256.2 1559.2 L256.3 1560.6 L256.5 1561.9 L256.8 1563.3 L257.2 1564.7 L257.7 1566 L258.3 1567.3 L259 1568.6 L260.1 1570 L261.3 1571.4 L262.7 1572.9 L264.3 1574.3 L265.8 1575.8 L267.4 1577.2 L268.9 1578.4 L270.4 1579.6 L271.6 1580.7 L272.7 1581.7 L273.5 1582.4 L272.5 1583.6 L271.7 1582.9 L270.6 1582.1 L269.2 1581.1 L267.7 1580 L266.1 1578.8 L264.4 1577.5 L262.7 1576.1 L261.1 1574.7 L259.5 1573.2 L258 1571.7 L256.8 1570.2 L255.7 1568.7 L254.9 1567.2 L254.3 1565.7 L253.7 1564.2 L253.2 1562.7 L252.9 1561.1 L252.6 1559.5 L252.5 1557.9 L252.4 1556.2 L252.4 1554.6 L252.5 1552.9 L252.7 1551.3 L252.9 1549.6 L253.2 1547.9 L253.6 1546.1 L254.1 1544.4 L254.7 1542.6 L255.4 1540.9 L256.1 1539.1 L256.9 1537.3 L257.8 1535.5 L258.7 1533.8 L259.7 1532 L260.6 1530.3 L261.6 1528.5 L262.8 1526.7 L264 1524.9 L265.2 1523.2 L266.6 1521.4 L267.9 1519.7 L269.3 1518 L270.7 1516.3 L272.1 1514.6 L273.5 1512.9 L274.8 1511.2 L276.1 1509.6 L277.3 1507.9 L278.6 1506.2 L279.9 1504.5 L281.2 1502.8 L282.5 1501.2 L283.7 1499.6 L285 1498 L286.1 1496.5 L287.2 1494.9 L288.1 1493.3 L288.9 1491.8 L289.7 1490.2 L290.2 1488.6 L290.8 1486.9 L291.2 1485.1 L291.6 1483.3 L291.9 1481.5 L292.2 1479.6 L292.3 1477.7 L292.4 1475.8 L292.4 1473.8 L292.3 1471.8 L292.1 1469.8 L291.9 1467.8 L291.5 1465.8 L291.1 1463.6 L290.5 1461.5 L289.9 1459.2 L289.1 1456.8 L288.3 1454.5 L287.4 1452.1 L286.4 1449.7 L285.3 1447.3 L284.2 1445 L283.1 1442.7 L281.9 1440.6 L280.7 1438.5 L279.5 1436.5 L278.2 1434.5 L276.9 1432.6 L275.5 1430.7 L274.1 1428.8 L272.6 1427 L271.1 1425.2 L269.5 1423.5 L267.8 1421.7 L266.1 1420 L264.4 1418.4 L262.7 1416.7 L260.9 1415.2 L259 1413.7 L257.1 1412.2 L255.1 1410.8 L253.1 1409.4 L251 1408 L248.8 1406.6 L246.5 1405.2 L244.3 1403.7 L241.9 1402.3 L239.6 1400.7 L237.2 1399.2 L234.9 1397.6 L232.5 1396 L230 1394.5 L227.4 1392.9 L224.8 1391.2 L222.2 1389.6 L219.6 1387.9 L216.9 1386.2 L214.3 1384.4 L211.8 1382.6 L209.3 1380.8 L206.9 1378.9 L204.6 1377 L202.3 1375.1 L200.1 1373.1 L197.9 1371.2 L195.7 1369.2 L193.6 1367.1 L191.5 1365 L189.5 1362.9 L187.6 1360.8 L185.6 1358.6 L183.8 1356.3 L182 1354 L180.3 1351.7 L178.6 1349.3 L177.1 1346.9 L175.6 1344.4 L174.1 1341.9 L172.7 1339.4 L171.4 1336.9 L170.1 1334.4 L168.9 1331.8 L167.7 1329.2 L166.5 1326.6 L165.4 1323.9 L164.2 1321.1 L163.1 1318 L162.1 1314.8 L161 1311.6 L160 1308.3 L159.1 1305.1 L158.2 1302 L157.4 1299 L156.7 1296.3 L156 1294 L155.5 1292 L155 1290.4Z" fill="#d2e7fa"/>
<path d="M164.6 1287.6 L165.1 1289.2 L165.7 1291.3 L166.3 1293.7 L167.1 1296.4 L167.8 1299.3 L168.7 1302.3 L169.6 1305.4 L170.6 1308.6 L171.6 1311.7 L172.6 1314.7 L173.6 1317.5 L174.6 1320.1 L175.7 1322.6 L176.8 1325.1 L177.9 1327.5 L179.1 1329.9 L180.3 1332.3 L181.5 1334.7 L182.8 1337 L184.1 1339.3 L185.5 1341.5 L187 1343.7 L188.4 1345.9 L190 1348 L191.6 1350.1 L193.3 1352.1 L195 1354.1 L196.8 1356.1 L198.7 1358.1 L200.6 1360 L202.6 1361.9 L204.6 1363.8 L206.7 1365.7 L208.8 1367.5 L211 1369.3 L213.1 1371.1 L215.3 1372.8 L217.6 1374.5 L220 1376.2 L222.5 1377.9 L225 1379.5 L227.5 1381.2 L230.1 1382.8 L232.7 1384.4 L235.3 1386 L237.9 1387.6 L240.4 1389.2 L242.8 1390.8 L245.1 1392.4 L247.4 1393.9 L249.6 1395.3 L251.9 1396.7 L254.2 1398.2 L256.4 1399.6 L258.6 1401.1 L260.9 1402.6 L263 1404.2 L265.2 1405.8 L267.3 1407.5 L269.3 1409.3 L271.3 1411.1 L273.2 1412.9 L275 1414.8 L276.8 1416.7 L278.6 1418.6 L280.3 1420.6 L281.9 1422.6 L283.5 1424.7 L285.1 1426.8 L286.5 1429 L288 1431.2 L289.3 1433.5 L290.6 1435.9 L291.8 1438.3 L293 1440.8 L294.2 1443.4 L295.2 1446 L296.3 1448.7 L297.2 1451.3 L298.1 1454 L298.8 1456.6 L299.5 1459.2 L300 1461.8 L300.5 1464.2 L300.8 1466.7 L301 1469.1 L301.1 1471.5 L301.1 1473.8 L301 1476.1 L300.8 1478.4 L300.5 1480.7 L300.2 1482.9 L299.7 1485.1 L299.1 1487.2 L298.5 1489.3 L297.8 1491.4 L296.9 1493.4 L295.8 1495.5 L294.7 1497.4 L293.4 1499.2 L292.1 1500.9 L290.8 1502.6 L289.4 1504.2 L288 1505.8 L286.7 1507.4 L285.3 1508.9 L284 1510.5 L282.7 1512.1 L281.4 1513.7 L279.9 1515.4 L278.5 1517.1 L277 1518.8 L275.5 1520.4 L274 1522 L272.6 1523.6 L271.2 1525.2 L269.9 1526.8 L268.6 1528.4 L267.4 1529.9 L266.4 1531.5 L265.3 1533.1 L264.3 1534.7 L263.3 1536.3 L262.3 1537.9 L261.4 1539.6 L260.6 1541.2 L259.8 1542.8 L259.1 1544.3 L258.5 1545.9 L257.9 1547.4 L257.5 1548.9 L257.1 1550.4 L256.8 1551.9 L256.5 1553.4 L256.4 1554.8 L256.2 1556.3 L256.2 1557.7 L256.2 1559.2 L256.3 1560.6 L256.5 1561.9 L256.8 1563.3 L257.2 1564.7 L257.7 1566 L258.3 1567.3 L259 1568.6 L260.1 1570 L261.3 1571.4 L262.7 1572.9 L264.3 1574.3 L265.8 1575.8 L267.4 1577.2 L268.9 1578.4 L270.4 1579.6 L271.6 1580.7 L272.7 1581.7 L273.5 1582.4 L273.5 1582.4 L272.7 1581.7 L271.6 1580.7 L270.4 1579.6 L268.9 1578.4 L267.4 1577.2 L265.8 1575.8 L264.3 1574.3 L262.7 1572.9 L261.3 1571.4 L260.1 1570 L259 1568.6 L258.3 1567.3 L257.7 1566 L257.2 1564.7 L256.8 1563.3 L256.5 1561.9 L256.3 1560.6 L256.2 1559.2 L256.2 1557.7 L256.2 1556.3 L256.4 1554.8 L256.5 1553.4 L256.8 1551.9 L257.1 1550.4 L257.5 1548.9 L257.9 1547.4 L258.5 1545.9 L259.1 1544.3 L259.8 1542.8 L260.6 1541.2 L261.4 1539.6 L262.3 1537.9 L263.3 1536.3 L264.3 1534.7 L265.3 1533.1 L266.4 1531.5 L267.4 1529.9 L268.6 1528.4 L269.9 1526.8 L271.1 1525.2 L272.5 1523.5 L273.9 1521.9 L275.3 1520.2 L276.7 1518.5 L278.1 1516.8 L279.5 1515.1 L280.8 1513.3 L282.1 1511.6 L283.3 1510 L284.6 1508.4 L285.9 1506.8 L287.2 1505.1 L288.5 1503.5 L289.8 1501.8 L291.1 1500.1 L292.3 1498.4 L293.4 1496.6 L294.4 1494.7 L295.4 1492.8 L296.1 1490.8 L296.8 1488.8 L297.3 1486.7 L297.8 1484.6 L298.1 1482.5 L298.4 1480.4 L298.6 1478.2 L298.7 1476 L298.7 1473.8 L298.6 1471.6 L298.4 1469.3 L298.2 1467 L297.8 1464.7 L297.3 1462.3 L296.7 1459.9 L296 1457.4 L295.1 1454.9 L294.2 1452.4 L293.3 1449.8 L292.2 1447.3 L291.1 1444.8 L289.9 1442.3 L288.7 1439.9 L287.4 1437.6 L286.1 1435.4 L284.7 1433.2 L283.3 1431.1 L281.8 1429.1 L280.3 1427.1 L278.7 1425.2 L277 1423.3 L275.4 1421.5 L273.6 1419.6 L271.8 1417.9 L270 1416.1 L268.2 1414.4 L266.3 1412.6 L264.4 1410.9 L262.4 1409.3 L260.4 1407.8 L258.3 1406.3 L256.1 1404.8 L254 1403.4 L251.7 1402 L249.5 1400.5 L247.2 1399.1 L244.9 1397.6 L242.6 1396.1 L240.3 1394.6 L237.9 1393 L235.4 1391.4 L232.9 1389.8 L230.3 1388.2 L227.7 1386.6 L225.1 1385 L222.5 1383.3 L220 1381.6 L217.5 1379.9 L215 1378.2 L212.6 1376.4 L210.3 1374.6 L208.1 1372.8 L205.9 1370.9 L203.7 1369 L201.6 1367.1 L199.5 1365.2 L197.5 1363.2 L195.5 1361.2 L193.6 1359.2 L191.7 1357.1 L189.8 1355 L188.1 1352.9 L186.4 1350.7 L184.8 1348.5 L183.2 1346.2 L181.7 1343.9 L180.3 1341.6 L178.9 1339.2 L177.6 1336.8 L176.3 1334.4 L175.1 1331.9 L173.9 1329.4 L172.7 1326.9 L171.6 1324.4 L170.5 1321.8 L169.4 1319.1 L168.3 1316.2 L167.3 1313.1 L166.3 1309.9 L165.3 1306.7 L164.4 1303.5 L163.5 1300.5 L162.7 1297.6 L162 1294.9 L161.3 1292.5 L160.8 1290.5 L160.3 1288.9Z" fill="#b9daf7"/>
<circle cx="155" cy="1277.5" r="14" fill="#c5d2e8"/>
<use href="#c19" fill="#c3cee4"/>
<g clip-path="url(#cp19)"><use href="#c19" fill="#dcecfb" filter="url(#bf19)" transform="translate(150.8 1212) scale(0.8700 0.9080) translate(-150.8 -1212)"/></g>
<path d="M147.5 1180.2 Q160.3 1192 159.9 1205.8 Q157.4 1219.5 176 1231.5" fill="none" stroke="#ff300f" stroke-width="5.2" stroke-linecap="round" stroke-linejoin="round"/>
<path d="M129.5 1200.1 Q142.1 1210.1 142.3 1225.8 Q138.8 1239.5 158.9 1251.5" fill="none" stroke="#4fa8ea" stroke-width="5.2" stroke-linecap="round" stroke-linejoin="round"/>
<circle cx="159.9" cy="1205.8" r="2.2" fill="#5f5f5f"/>
<circle cx="142.3" cy="1225.8" r="2.2" fill="#5f5f5f"/>
</g>
<g transform="translate(544.8 0)">
<path d="M164.6 1287.6 L165.1 1289.2 L165.7 1291.3 L166.3 1293.7 L167.1 1296.4 L167.8 1299.3 L168.7 1302.3 L169.6 1305.4 L170.6 1308.6 L171.6 1311.7 L172.6 1314.7 L173.6 1317.5 L174.6 1320.1 L175.7 1322.6 L176.8 1325.1 L177.9 1327.5 L179.1 1329.9 L180.3 1332.3 L181.5 1334.7 L182.8 1337 L184.1 1339.3 L185.5 1341.5 L187 1343.7 L188.4 1345.9 L190 1348 L191.6 1350.1 L193.3 1352.1 L195 1354.1 L196.8 1356.1 L198.7 1358.1 L200.6 1360 L202.6 1361.9 L204.6 1363.8 L206.7 1365.7 L208.8 1367.5 L211 1369.3 L213.1 1371.1 L215.3 1372.8 L217.6 1374.5 L220 1376.2 L222.5 1377.9 L225 1379.5 L227.5 1381.2 L230.1 1382.8 L232.7 1384.4 L235.3 1386 L237.9 1387.6 L240.4 1389.2 L242.8 1390.8 L245.1 1392.4 L247.4 1393.9 L249.6 1395.3 L251.9 1396.7 L254.2 1398.2 L256.4 1399.6 L258.6 1401.1 L260.9 1402.6 L263 1404.2 L265.2 1405.8 L267.3 1407.5 L269.3 1409.3 L271.3 1411.1 L273.2 1412.9 L275 1414.8 L276.8 1416.7 L278.6 1418.6 L280.3 1420.6 L281.9 1422.6 L283.5 1424.7 L285.1 1426.8 L286.5 1429 L288 1431.2 L289.3 1433.5 L290.6 1435.9 L291.8 1438.3 L293 1440.8 L294.2 1443.4 L295.2 1446 L296.3 1448.7 L297.2 1451.3 L298.1 1454 L298.8 1456.6 L299.5 1459.2 L300 1461.8 L300.5 1464.2 L300.8 1466.7 L301 1469.1 L301.1 1471.5 L301.1 1473.8 L301 1476.1 L300.8 1478.4 L300.5 1480.7 L300.2 1482.9 L299.7 1485.1 L299.1 1487.2 L298.5 1489.3 L297.8 1491.4 L296.9 1493.4 L295.8 1495.5 L294.7 1497.4 L293.4 1499.2 L292.1 1500.9 L290.8 1502.6 L289.4 1504.2 L288 1505.8 L286.7 1507.4 L285.3 1508.9 L284 1510.5 L282.7 1512.1 L281.4 1513.7 L279.9 1515.4 L278.5 1517.1 L277 1518.8 L275.5 1520.4 L274 1522 L272.6 1523.6 L271.2 1525.2 L269.9 1526.8 L268.6 1528.4 L267.4 1529.9 L266.4 1531.5 L265.3 1533.1 L264.3 1534.7 L263.3 1536.3 L262.3 1537.9 L261.4 1539.6 L260.6 1541.2 L259.8 1542.8 L259.1 1544.3 L258.5 1545.9 L257.9 1547.4 L257.5 1548.9 L257.1 1550.4 L256.8 1551.9 L256.5 1553.4 L256.4 1554.8 L256.2 1556.3 L256.2 1557.7 L256.2 1559.2 L256.3 1560.6 L256.5 1561.9 L256.8 1563.3 L257.2 1564.7 L257.7 1566 L258.3 1567.3 L259 1568.6 L260.1 1570 L261.3 1571.4 L262.7 1572.9 L264.3 1574.3 L265.8 1575.8 L267.4 1577.2 L268.9 1578.4 L270.4 1579.6 L271.6 1580.7 L272.7 1581.7 L273.5 1582.4 L272.5 1583.6 L271.7 1582.9 L270.6 1582.1 L269.2 1581.1 L267.7 1580 L266.1 1578.8 L264.4 1577.5 L262.7 1576.1 L261.1 1574.7 L259.5 1573.2 L258 1571.7 L256.8 1570.2 L255.7 1568.7 L254.9 1567.2 L254.3 1565.7 L253.7 1564.2 L253.2 1562.7 L252.9 1561.1 L252.6 1559.5 L252.5 1557.9 L252.4 1556.2 L252.4 1554.6 L252.5 1552.9 L252.7 1551.3 L252.9 1549.6 L253.2 1547.9 L253.6 1546.1 L254.1 1544.4 L254.7 1542.6 L255.4 1540.9 L256.1 1539.1 L256.9 1537.3 L257.8 1535.5 L258.7 1533.8 L259.7 1532 L260.6 1530.3 L261.6 1528.5 L262.8 1526.7 L264 1524.9 L265.2 1523.2 L266.6 1521.4 L267.9 1519.7 L269.3 1518 L270.7 1516.3 L272.1 1514.6 L273.5 1512.9 L274.8 1511.2 L276.1 1509.6 L277.3 1507.9 L278.6 1506.2 L279.9 1504.5 L281.2 1502.8 L282.5 1501.2 L283.7 1499.6 L285 1498 L286.1 1496.5 L287.2 1494.9 L288.1 1493.3 L288.9 1491.8 L289.7 1490.2 L290.2 1488.6 L290.8 1486.9 L291.2 1485.1 L291.6 1483.3 L291.9 1481.5 L292.2 1479.6 L292.3 1477.7 L292.4 1475.8 L292.4 1473.8 L292.3 1471.8 L292.1 1469.8 L291.9 1467.8 L291.5 1465.8 L291.1 1463.6 L290.5 1461.5 L289.9 1459.2 L289.1 1456.8 L288.3 1454.5 L287.4 1452.1 L286.4 1449.7 L285.3 1447.3 L284.2 1445 L283.1 1442.7 L281.9 1440.6 L280.7 1438.5 L279.5 1436.5 L278.2 1434.5 L276.9 1432.6 L275.5 1430.7 L274.1 1428.8 L272.6 1427 L271.1 1425.2 L269.5 1423.5 L267.8 1421.7 L266.1 1420 L264.4 1418.4 L262.7 1416.7 L260.9 1415.2 L259 1413.7 L257.1 1412.2 L255.1 1410.8 L253.1 1409.4 L251 1408 L248.8 1406.6 L246.5 1405.2 L244.3 1403.7 L241.9 1402.3 L239.6 1400.7 L237.2 1399.2 L234.9 1397.6 L232.5 1396 L230 1394.5 L227.4 1392.9 L224.8 1391.2 L222.2 1389.6 L219.6 1387.9 L216.9 1386.2 L214.3 1384.4 L211.8 1382.6 L209.3 1380.8 L206.9 1378.9 L204.6 1377 L202.3 1375.1 L200.1 1373.1 L197.9 1371.2 L195.7 1369.2 L193.6 1367.1 L191.5 1365 L189.5 1362.9 L187.6 1360.8 L185.6 1358.6 L183.8 1356.3 L182 1354 L180.3 1351.7 L178.6 1349.3 L177.1 1346.9 L175.6 1344.4 L174.1 1341.9 L172.7 1339.4 L171.4 1336.9 L170.1 1334.4 L168.9 1331.8 L167.7 1329.2 L166.5 1326.6 L165.4 1323.9 L164.2 1321.1 L163.1 1318 L162.1 1314.8 L161 1311.6 L160 1308.3 L159.1 1305.1 L158.2 1302 L157.4 1299 L156.7 1296.3 L156 1294 L155.5 1292 L155 1290.4Z" fill="#d2e7fa"/>
<path d="M164.6 1287.6 L165.1 1289.2 L165.7 1291.3 L166.3 1293.7 L167.1 1296.4 L167.8 1299.3 L168.7 1302.3 L169.6 1305.4 L170.6 1308.6 L171.6 1311.7 L172.6 1314.7 L173.6 1317.5 L174.6 1320.1 L175.7 1322.6 L176.8 1325.1 L177.9 1327.5 L179.1 1329.9 L180.3 1332.3 L181.5 1334.7 L182.8 1337 L184.1 1339.3 L185.5 1341.5 L187 1343.7 L188.4 1345.9 L190 1348 L191.6 1350.1 L193.3 1352.1 L195 1354.1 L196.8 1356.1 L198.7 1358.1 L200.6 1360 L202.6 1361.9 L204.6 1363.8 L206.7 1365.7 L208.8 1367.5 L211 1369.3 L213.1 1371.1 L215.3 1372.8 L217.6 1374.5 L220 1376.2 L222.5 1377.9 L225 1379.5 L227.5 1381.2 L230.1 1382.8 L232.7 1384.4 L235.3 1386 L237.9 1387.6 L240.4 1389.2 L242.8 1390.8 L245.1 1392.4 L247.4 1393.9 L249.6 1395.3 L251.9 1396.7 L254.2 1398.2 L256.4 1399.6 L258.6 1401.1 L260.9 1402.6 L263 1404.2 L265.2 1405.8 L267.3 1407.5 L269.3 1409.3 L271.3 1411.1 L273.2 1412.9 L275 1414.8 L276.8 1416.7 L278.6 1418.6 L280.3 1420.6 L281.9 1422.6 L283.5 1424.7 L285.1 1426.8 L286.5 1429 L288 1431.2 L289.3 1433.5 L290.6 1435.9 L291.8 1438.3 L293 1440.8 L294.2 1443.4 L295.2 1446 L296.3 1448.7 L297.2 1451.3 L298.1 1454 L298.8 1456.6 L299.5 1459.2 L300 1461.8 L300.5 1464.2 L300.8 1466.7 L301 1469.1 L301.1 1471.5 L301.1 1473.8 L301 1476.1 L300.8 1478.4 L300.5 1480.7 L300.2 1482.9 L299.7 1485.1 L299.1 1487.2 L298.5 1489.3 L297.8 1491.4 L296.9 1493.4 L295.8 1495.5 L294.7 1497.4 L293.4 1499.2 L292.1 1500.9 L290.8 1502.6 L289.4 1504.2 L288 1505.8 L286.7 1507.4 L285.3 1508.9 L284 1510.5 L282.7 1512.1 L281.4 1513.7 L279.9 1515.4 L278.5 1517.1 L277 1518.8 L275.5 1520.4 L274 1522 L272.6 1523.6 L271.2 1525.2 L269.9 1526.8 L268.6 1528.4 L267.4 1529.9 L266.4 1531.5 L265.3 1533.1 L264.3 1534.7 L263.3 1536.3 L262.3 1537.9 L261.4 1539.6 L260.6 1541.2 L259.8 1542.8 L259.1 1544.3 L258.5 1545.9 L257.9 1547.4 L257.5 1548.9 L257.1 1550.4 L256.8 1551.9 L256.5 1553.4 L256.4 1554.8 L256.2 1556.3 L256.2 1557.7 L256.2 1559.2 L256.3 1560.6 L256.5 1561.9 L256.8 1563.3 L257.2 1564.7 L257.7 1566 L258.3 1567.3 L259 1568.6 L260.1 1570 L261.3 1571.4 L262.7 1572.9 L264.3 1574.3 L265.8 1575.8 L267.4 1577.2 L268.9 1578.4 L270.4 1579.6 L271.6 1580.7 L272.7 1581.7 L273.5 1582.4 L273.5 1582.4 L272.7 1581.7 L271.6 1580.7 L270.4 1579.6 L268.9 1578.4 L267.4 1577.2 L265.8 1575.8 L264.3 1574.3 L262.7 1572.9 L261.3 1571.4 L260.1 1570 L259 1568.6 L258.3 1567.3 L257.7 1566 L257.2 1564.7 L256.8 1563.3 L256.5 1561.9 L256.3 1560.6 L256.2 1559.2 L256.2 1557.7 L256.2 1556.3 L256.4 1554.8 L256.5 1553.4 L256.8 1551.9 L257.1 1550.4 L257.5 1548.9 L257.9 1547.4 L258.5 1545.9 L259.1 1544.3 L259.8 1542.8 L260.6 1541.2 L261.4 1539.6 L262.3 1537.9 L263.3 1536.3 L264.3 1534.7 L265.3 1533.1 L266.4 1531.5 L267.4 1529.9 L268.6 1528.4 L269.9 1526.8 L271.1 1525.2 L272.5 1523.5 L273.9 1521.9 L275.3 1520.2 L276.7 1518.5 L278.1 1516.8 L279.5 1515.1 L280.8 1513.3 L282.1 1511.6 L283.3 1510 L284.6 1508.4 L285.9 1506.8 L287.2 1505.1 L288.5 1503.5 L289.8 1501.8 L291.1 1500.1 L292.3 1498.4 L293.4 1496.6 L294.4 1494.7 L295.4 1492.8 L296.1 1490.8 L296.8 1488.8 L297.3 1486.7 L297.8 1484.6 L298.1 1482.5 L298.4 1480.4 L298.6 1478.2 L298.7 1476 L298.7 1473.8 L298.6 1471.6 L298.4 1469.3 L298.2 1467 L297.8 1464.7 L297.3 1462.3 L296.7 1459.9 L296 1457.4 L295.1 1454.9 L294.2 1452.4 L293.3 1449.8 L292.2 1447.3 L291.1 1444.8 L289.9 1442.3 L288.7 1439.9 L287.4 1437.6 L286.1 1435.4 L284.7 1433.2 L283.3 1431.1 L281.8 1429.1 L280.3 1427.1 L278.7 1425.2 L277 1423.3 L275.4 1421.5 L273.6 1419.6 L271.8 1417.9 L270 1416.1 L268.2 1414.4 L266.3 1412.6 L264.4 1410.9 L262.4 1409.3 L260.4 1407.8 L258.3 1406.3 L256.1 1404.8 L254 1403.4 L251.7 1402 L249.5 1400.5 L247.2 1399.1 L244.9 1397.6 L242.6 1396.1 L240.3 1394.6 L237.9 1393 L235.4 1391.4 L232.9 1389.8 L230.3 1388.2 L227.7 1386.6 L225.1 1385 L222.5 1383.3 L220 1381.6 L217.5 1379.9 L215 1378.2 L212.6 1376.4 L210.3 1374.6 L208.1 1372.8 L205.9 1370.9 L203.7 1369 L201.6 1367.1 L199.5 1365.2 L197.5 1363.2 L195.5 1361.2 L193.6 1359.2 L191.7 1357.1 L189.8 1355 L188.1 1352.9 L186.4 1350.7 L184.8 1348.5 L183.2 1346.2 L181.7 1343.9 L180.3 1341.6 L178.9 1339.2 L177.6 1336.8 L176.3 1334.4 L175.1 1331.9 L173.9 1329.4 L172.7 1326.9 L171.6 1324.4 L170.5 1321.8 L169.4 1319.1 L168.3 1316.2 L167.3 1313.1 L166.3 1309.9 L165.3 1306.7 L164.4 1303.5 L163.5 1300.5 L162.7 1297.6 L162 1294.9 L161.3 1292.5 L160.8 1290.5 L160.3 1288.9Z" fill="#b9daf7"/>
<circle cx="155" cy="1277.5" r="14" fill="#c5d2e8"/>
<use href="#c20" fill="#c3cee4"/>
<g clip-path="url(#cp20)"><use href="#c20" fill="#dcecfb" filter="url(#bf20)" transform="translate(150.8 1212) scale(0.8700 0.9080) translate(-150.8 -1212)"/></g>
<path d="M147.5 1180.2 Q160.3 1192 159.9 1205.8 Q157.4 1219.5 176 1231.5" fill="none" stroke="#ff300f" stroke-width="5.2" stroke-linecap="round" stroke-linejoin="round"/>
<path d="M129.5 1200.1 Q142.1 1210.1 142.3 1225.8 Q138.8 1239.5 158.9 1251.5" fill="none" stroke="#4fa8ea" stroke-width="5.2" stroke-linecap="round" stroke-linejoin="round"/>
<circle cx="159.9" cy="1205.8" r="2.2" fill="#5f5f5f"/>
<circle cx="142.3" cy="1225.8" r="2.2" fill="#5f5f5f"/>
</g>
<text x="496" y="177.6" font-size="34.5" textLength="272" lengthAdjust="spacingAndGlyphs" fill="#0b0b0b">Spermatogonium</text>
<text x="1393" y="182.8" font-size="34.5" textLength="166.5" lengthAdjust="spacingAndGlyphs" fill="#0b0b0b">Oogonium</text>
<text x="550.6" y="449.4" font-size="34.5" textLength="119.8" lengthAdjust="spacingAndGlyphs" fill="#0b0b0b">Primary</text>
<text x="549.8" y="492.5" font-size="34.5" textLength="216.4" lengthAdjust="spacingAndGlyphs" fill="#0b0b0b">spermatocyte</text>
<text x="1415.7" y="453.9" font-size="34.5" textLength="119.3" lengthAdjust="spacingAndGlyphs" fill="#0b0b0b">Primary</text>
<text x="1426" y="496.6" font-size="34.5" textLength="109" lengthAdjust="spacingAndGlyphs" fill="#0b0b0b">oocyte</text>
<text x="691.8" y="715.4" font-size="34.5" textLength="170.2" lengthAdjust="spacingAndGlyphs" fill="#0b0b0b">Secondary</text>
<text x="691.8" y="757.4" font-size="34.5" textLength="216.2" lengthAdjust="spacingAndGlyphs" fill="#0b0b0b">spermatocyte</text>
<text x="1212.6" y="719" font-size="34.5" textLength="170.8" lengthAdjust="spacingAndGlyphs" fill="#0b0b0b">Secondary</text>
<text x="1274" y="761.8" font-size="34.5" textLength="109.4" lengthAdjust="spacingAndGlyphs" fill="#0b0b0b">oocyte</text>
<text x="1879.3" y="632.9" font-size="34.5" textLength="130.7" lengthAdjust="spacingAndGlyphs" fill="#0b0b0b">1st polar</text>
<text x="1904.2" y="676.5" font-size="34.5" textLength="80.8" lengthAdjust="spacingAndGlyphs" fill="#0b0b0b">body</text>
<text x="773.5" y="974" font-size="34.5" textLength="178.7" lengthAdjust="spacingAndGlyphs" fill="#0b0b0b">Spermatids</text>
<text x="1181" y="974" font-size="34.5" textLength="88.2" lengthAdjust="spacingAndGlyphs" fill="#0b0b0b">Ootid</text>
<text x="1550.7" y="1084.5" font-size="34.5" textLength="61.3" lengthAdjust="spacingAndGlyphs" fill="#0b0b0b">2nd</text>
<text x="1496.8" y="1126.7" font-size="34.5" textLength="170.2" lengthAdjust="spacingAndGlyphs" fill="#0b0b0b">polar body</text>
<text x="1740" y="1093.4" font-size="34.5" textLength="197.8" lengthAdjust="spacingAndGlyphs" fill="#0b0b0b">Polar bodies</text>
<text x="763" y="1227.6" font-size="34.5" textLength="104" lengthAdjust="spacingAndGlyphs" fill="#0b0b0b">Sperm</text>
<text x="1165.9" y="1226.5" font-size="34.5" textLength="93.7" lengthAdjust="spacingAndGlyphs" fill="#0b0b0b">Ovum</text>
<text x="947.4" y="183.3" font-size="45" textLength="156.7" lengthAdjust="spacingAndGlyphs" font-weight="bold" fill="#1f7bcc">Mitosis</text>
<text x="929.8" y="467.4" font-size="45" textLength="189.5" lengthAdjust="spacingAndGlyphs" font-weight="bold" fill="#1f7bcc">Meiosis I</text>
<text x="922.8" y="823.3" font-size="45" textLength="203.5" lengthAdjust="spacingAndGlyphs" font-weight="bold" fill="#1f7bcc">Meiosis II</text>
<text x="868.1" y="1077.7" font-size="45" textLength="313.1" lengthAdjust="spacingAndGlyphs" font-weight="bold" fill="#1f7bcc">Differentiation</text>
</svg></body></html>
